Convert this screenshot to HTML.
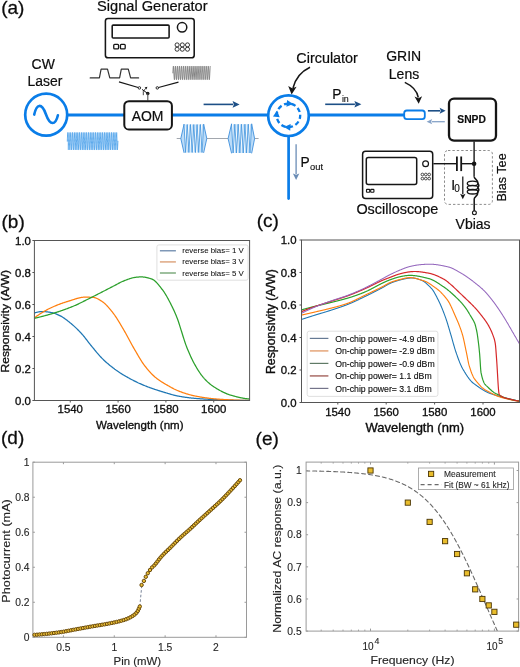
<!DOCTYPE html>
<html><head><meta charset="utf-8"><title>Figure</title>
<style>html,body{margin:0;padding:0;background:#fff;overflow:hidden;} svg{display:block;}</style>
</head><body>
<svg width="520" height="667" viewBox="0 0 520 667" font-family='"Liberation Sans", Arial, Helvetica, sans-serif'>
<rect width="520" height="667" fill="#fff"/>
<text x="1.2" y="13.8" font-size="19" fill="#0d0d0d" stroke="#0d0d0d" stroke-width="0.27">(a)</text>
<text x="97" y="10.7" font-size="14" textLength="110.6" lengthAdjust="spacingAndGlyphs" fill="#0d0d0d" stroke="#0d0d0d" stroke-width="0.2">Signal Generator</text>
<rect x="105.4" y="18.4" width="88.8" height="39.4" rx="2.6" fill="#fff" stroke="#161616" stroke-width="1.55"/>
<rect x="112.2" y="25.1" width="56.9" height="12.9" rx="1" fill="none" stroke="#161616" stroke-width="1.55"/>
<circle cx="182.1" cy="27.3" r="4.7" fill="none" stroke="#161616" stroke-width="1.5"/>
<rect x="113.75" y="44.45" width="4.8" height="4.5" rx="0.9" fill="none" stroke="#161616" stroke-width="1.3"/>
<rect x="120.45" y="44.45" width="4.75" height="4.5" rx="0.9" fill="none" stroke="#161616" stroke-width="1.3"/>
<circle cx="177.1" cy="44.9" r="2.05" fill="none" stroke="#161616" stroke-width="0.85"/>
<circle cx="177.1" cy="49.2" r="2.05" fill="none" stroke="#161616" stroke-width="0.85"/>
<circle cx="182.3" cy="44.9" r="2.05" fill="none" stroke="#161616" stroke-width="0.85"/>
<circle cx="182.3" cy="49.2" r="2.05" fill="none" stroke="#161616" stroke-width="0.85"/>
<circle cx="187.5" cy="44.9" r="2.05" fill="none" stroke="#161616" stroke-width="0.85"/>
<circle cx="187.5" cy="49.2" r="2.05" fill="none" stroke="#161616" stroke-width="0.85"/>
<polyline points="90.2,77.9 99.4,77.9 101.1,69.2 107.5,69.2 109.8,77.9 119.6,77.9 121.3,69.2 128.3,69.2 130.6,77.9 138.6,77.9" fill="none" stroke="#333" stroke-width="1.2" stroke-linejoin="round" stroke-linecap="round"/>
<polyline points="172.9,72.9 172.95,71.83 173,70.79 173.05,69.81 173.11,68.89 173.16,68.08 173.21,67.39 173.26,66.83 173.31,66.43 173.36,66.18 173.41,66.1 173.47,66.19 173.52,66.44 173.57,66.86 173.62,67.42 173.67,68.12 173.72,68.94 173.77,69.85 173.82,70.84 173.88,71.89 173.93,72.95 173.98,74.02 174.03,75.06 174.08,76.04 174.13,76.95 174.18,77.76 174.24,78.44 174.29,78.99 174.34,79.39 174.39,79.63 174.44,79.7 174.49,79.6 174.54,79.34 174.6,78.92 174.65,78.35 174.7,77.64 174.75,76.82 174.8,75.9 174.85,74.91 174.9,73.86 174.96,72.79 175.01,71.73 175.06,70.69 175.11,69.71 175.16,68.81 175.21,68.01 175.26,67.33 175.31,66.79 175.37,66.39 175.42,66.16 175.47,66.1 175.52,66.21 175.57,66.48 175.62,66.91 175.67,67.48 175.73,68.2 175.78,69.02 175.83,69.95 175.88,70.95 175.93,71.99 175.98,73.06 176.03,74.12 176.09,75.16 176.14,76.14 176.19,77.03 176.24,77.83 176.29,78.5 176.34,79.04 176.39,79.42 176.45,79.64 176.5,79.7 176.55,79.58 176.6,79.31 176.65,78.87 176.7,78.28 176.75,77.57 176.8,76.73 176.86,75.8 176.91,74.8 176.96,73.76 177.01,72.69 177.06,71.62 177.11,70.59 177.16,69.62 177.22,68.72 177.27,67.93 177.32,67.27 177.37,66.74 177.42,66.36 177.47,66.15 177.52,66.1 177.58,66.23 177.63,66.51 177.68,66.96 177.73,67.55 177.78,68.27 177.83,69.11 177.88,70.04 177.93,71.05 177.99,72.1 178.04,73.17 178.09,74.23 178.14,75.26 178.19,76.23 178.24,77.12 178.29,77.9 178.35,78.56 178.4,79.08 178.45,79.45 178.5,79.66 178.55,79.69 178.6,79.56 178.65,79.27 178.71,78.82 178.76,78.22 178.81,77.49 178.86,76.64 178.91,75.71 178.96,74.7 179.01,73.65 179.07,72.58 179.12,71.52 179.17,70.49 179.22,69.53 179.27,68.64 179.32,67.86 179.37,67.21 179.42,66.7 179.48,66.34 179.53,66.14 179.58,66.11 179.63,66.25 179.68,66.55 179.73,67.01 179.78,67.62 179.84,68.35 179.89,69.2 179.94,70.14 179.99,71.15 180.04,72.2 180.09,73.27 180.14,74.33 180.2,75.36 180.25,76.32 180.3,77.2 180.35,77.97 180.4,78.62 180.45,79.13 180.5,79.48 180.56,79.67 180.61,79.69 180.66,79.54 180.71,79.23 180.76,78.76 180.81,78.15 180.86,77.41 180.91,76.55 180.97,75.61 181.02,74.6 181.07,73.54 181.12,72.48 181.17,71.42 181.22,70.39 181.27,69.43 181.33,68.56 181.38,67.79 181.43,67.15 181.48,66.65 181.53,66.31 181.58,66.13 181.63,66.11 181.69,66.27 181.74,66.59 181.79,67.06 181.84,67.68 181.89,68.43 181.94,69.29 181.99,70.24 182.05,71.25 182.1,72.31 182.15,73.38 182.2,74.44 182.25,75.46 182.3,76.41 182.35,77.28 182.4,78.04 182.46,78.68 182.51,79.17 182.56,79.5 182.61,79.68 182.66,79.68 182.71,79.52 182.76,79.19 182.82,78.71 182.87,78.08 182.92,77.33 182.97,76.46 183.02,75.51 183.07,74.5 183.12,73.44 183.18,72.37 183.23,71.31 183.28,70.3 183.33,69.34 183.38,68.48 183.43,67.72 183.48,67.1 183.54,66.61 183.59,66.28 183.64,66.12 183.69,66.12 183.74,66.29 183.79,66.63 183.84,67.12 183.89,67.75 183.95,68.51 184,69.38 184.05,70.34 184.1,71.36 184.15,72.41 184.2,73.48 184.25,74.54 184.31,75.55 184.36,76.5 184.41,77.36 184.46,78.11 184.51,78.73 184.56,79.21 184.61,79.53 184.67,79.68 184.72,79.67 184.77,79.49 184.82,79.15 184.87,78.65 184.92,78.01 184.97,77.25 185.03,76.37 185.08,75.41 185.13,74.39 185.18,73.33 185.23,72.26 185.28,71.21 185.33,70.2 185.38,69.25 185.44,68.4 185.49,67.65 185.54,67.04 185.59,66.57 185.64,66.26 185.69,66.11 185.74,66.13 185.8,66.32 185.85,66.67 185.9,67.18 185.95,67.82 186,68.59 186.05,69.47 186.1,70.44 186.16,71.46 186.21,72.52 186.26,73.59 186.31,74.64 186.36,75.65 186.41,76.59 186.46,77.44 186.52,78.18 186.57,78.79 186.62,79.25 186.67,79.55 186.72,79.69 186.77,79.66 186.82,79.47 186.87,79.11 186.93,78.6 186.98,77.94 187.03,77.17 187.08,76.28 187.13,75.31 187.18,74.29 187.23,73.23 187.29,72.16 187.34,71.11 187.39,70.1 187.44,69.16 187.49,68.32 187.54,67.59 187.59,66.99 187.65,66.53 187.7,66.24 187.75,66.11 187.8,66.14 187.85,66.35 187.9,66.71 187.95,67.23 188,67.89 188.06,68.68 188.11,69.56 188.16,70.53 188.21,71.56 188.26,72.63 188.31,73.69 188.36,74.74 188.42,75.75 188.47,76.68 188.52,77.52 188.57,78.25 188.62,78.84 188.67,79.28 188.72,79.57 188.78,79.7 188.83,79.65 188.88,79.44 188.93,79.06 188.98,78.54 189.03,77.87 189.08,77.08 189.14,76.19 189.19,75.22 189.24,74.18 189.29,73.12 189.34,72.05 189.39,71 189.44,70 189.49,69.08 189.55,68.24 189.6,67.52 189.65,66.94 189.7,66.5 189.75,66.22 189.8,66.1 189.85,66.16 189.91,66.38 189.96,66.76 190.01,67.29 190.06,67.97 190.11,68.76 190.16,69.66 190.21,70.63 190.27,71.67 190.32,72.73 190.37,73.8 190.42,74.85 190.47,75.84 190.52,76.77 190.57,77.6 190.63,78.31 190.68,78.89 190.73,79.32 190.78,79.59 190.83,79.7 190.88,79.64 190.93,79.41 190.98,79.02 191.04,78.48 191.09,77.8 191.14,77 191.19,76.1 191.24,75.12 191.29,74.08 191.34,73.01 191.4,71.95 191.45,70.9 191.5,69.91 191.55,68.99 191.6,68.16 191.65,67.46 191.7,66.89 191.76,66.46 191.81,66.2 191.86,66.1 191.91,66.17 191.96,66.41 192.01,66.81 192.06,67.35 192.12,68.04 192.17,68.84 192.22,69.75 192.27,70.74 192.32,71.77 192.37,72.84 192.42,73.91 192.47,74.95 192.53,75.94 192.58,76.86 192.63,77.67 192.68,78.37 192.73,78.94 192.78,79.35 192.83,79.61 192.89,79.7 192.94,79.62 192.99,79.38 193.04,78.97 193.09,78.42 193.14,77.72 193.19,76.91 193.25,76 193.3,75.01 193.35,73.97 193.4,72.91 193.45,71.84 193.5,70.8 193.55,69.81 193.61,68.9 193.66,68.09 193.71,67.39 193.76,66.84 193.81,66.43 193.86,66.18 193.91,66.1 193.96,66.19 194.02,66.44 194.07,66.85 194.12,67.42 194.17,68.11 194.22,68.93 194.27,69.85 194.32,70.84 194.38,71.88 194.43,72.94 194.48,74.01 194.53,75.05 194.58,76.03 194.63,76.94 194.68,77.75 194.74,78.44 194.79,78.99 194.84,79.39 194.89,79.63 194.94,79.7 194.99,79.6 195.04,79.34 195.1,78.92 195.15,78.35 195.2,77.65 195.25,76.83 195.3,75.91 195.35,74.91 195.4,73.87 195.45,72.8 195.51,71.74 195.56,70.7 195.61,69.72 195.66,68.82 195.71,68.01 195.76,67.33 195.81,66.79 195.87,66.4 195.92,66.17 195.97,66.1 196.02,66.2 196.07,66.47 196.12,66.9 196.17,67.48 196.23,68.19 196.28,69.02 196.33,69.94 196.38,70.94 196.43,71.98 196.48,73.05 196.53,74.11 196.58,75.15 196.64,76.13 196.69,77.03 196.74,77.82 196.79,78.5 196.84,79.03 196.89,79.42 196.94,79.64 197,79.7 197.05,79.59 197.1,79.31 197.15,78.87 197.2,78.29 197.25,77.57 197.3,76.74 197.36,75.81 197.41,74.81 197.46,73.76 197.51,72.7 197.56,71.63 197.61,70.6 197.66,69.63 197.72,68.73 197.77,67.94 197.82,67.27 197.87,66.74 197.92,66.37 197.97,66.15 198.02,66.1 198.07,66.22 198.13,66.51 198.18,66.95 198.23,67.54 198.28,68.27 198.33,69.1 198.38,70.04 198.43,71.04 198.49,72.09 198.54,73.16 198.59,74.22 198.64,75.25 198.69,76.22 198.74,77.11 198.79,77.9 198.85,78.56 198.9,79.08 198.95,79.45 199,79.65 199.05,79.69 199.1,79.57 199.15,79.27 199.21,78.82 199.26,78.22 199.31,77.49 199.36,76.65 199.41,75.72 199.46,74.71 199.51,73.66 199.56,72.59 199.62,71.53 199.67,70.5 199.72,69.53 199.77,68.65 199.82,67.87 199.87,67.21 199.92,66.7 199.98,66.34 200.03,66.14 200.08,66.11 200.13,66.25 200.18,66.55 200.23,67.01 200.28,67.61 200.34,68.35 200.39,69.19 200.44,70.13 200.49,71.14 200.54,72.19 200.59,73.26 200.64,74.32 200.7,75.35 200.75,76.31 200.8,77.19 200.85,77.97 200.9,78.62 200.95,79.12 201,79.48 201.05,79.67 201.11,79.69 201.16,79.54 201.21,79.23 201.26,78.77 201.31,78.16 201.36,77.42 201.41,76.56 201.47,75.62 201.52,74.61 201.57,73.55 201.62,72.48 201.67,71.42 201.72,70.4 201.77,69.44 201.83,68.57 201.88,67.8 201.93,67.16 201.98,66.66 202.03,66.31 202.08,66.13 202.13,66.11 202.19,66.27 202.24,66.59 202.29,67.06 202.34,67.68 202.39,68.42 202.44,69.28 202.49,70.23 202.54,71.24 202.6,72.3 202.65,73.37 202.7,74.43 202.75,75.45 202.8,76.4 202.85,77.27 202.9,78.04 202.96,78.67 203.01,79.16 203.06,79.5 203.11,79.68 203.16,79.68 203.21,79.52 203.26,79.19 203.32,78.71 203.37,78.09 203.42,77.34 203.47,76.47 203.52,75.52 203.57,74.5 203.62,73.45 203.68,72.38 203.73,71.32 203.78,70.3 203.83,69.35 203.88,68.48 203.93,67.73 203.98,67.1 204.03,66.61 204.09,66.29 204.14,66.12 204.19,66.12 204.24,66.29 204.29,66.63 204.34,67.11 204.39,67.75 204.45,68.51 204.5,69.37 204.55,70.33 204.6,71.35 204.65,72.41 204.7,73.47 204.75,74.53 204.81,75.55 204.86,76.5 204.91,77.36 204.96,78.11 205.01,78.73 205.06,79.21 205.11,79.53 205.17,79.68 205.22,79.67 205.27,79.5 205.32,79.15 205.37,78.66 205.42,78.02 205.47,77.25 205.52,76.38 205.58,75.42 205.63,74.4 205.68,73.34 205.73,72.27 205.78,71.22 205.83,70.21 205.88,69.26 205.94,68.4 205.99,67.66 206.04,67.05 206.09,66.58 206.14,66.26 206.19,66.11 206.24,66.13 206.3,66.32 206.35,66.67 206.4,67.17 206.45,67.82 206.5,68.59 206.55,69.46 206.6,70.43 206.65,71.45 206.71,72.51 206.76,73.58 206.81,74.63 206.86,75.64 206.91,76.58 206.96,77.44 207.01,78.17 207.07,78.78 207.12,79.24 207.17,79.55 207.22,79.69 207.27,79.66 207.32,79.47 207.37,79.11 207.43,78.6 207.48,77.95 207.53,77.17 207.58,76.29 207.63,75.32 207.68,74.3 207.73,73.24 207.79,72.17 207.84,71.12 207.89,70.11 207.94,69.17 207.99,68.33 208.04,67.59 208.09,66.99 208.14,66.54 208.2,66.24 208.25,66.11 208.3,66.14 208.35,66.35 208.4,66.71 208.45,67.23 208.5,67.89 208.56,68.67 208.61,69.56 208.66,70.53 208.71,71.56 208.76,72.62 208.81,73.69 208.86,74.74 208.92,75.74 208.97,76.67 209.02,77.51 209.07,78.24 209.12,78.83 209.17,79.28 209.22,79.57 209.28,79.7 209.33,79.65 209.38,79.44 209.43,79.07 209.48,78.54 209.53,77.88 209.58,77.09 209.63,76.2 209.69,75.22 209.74,74.19 209.79,73.13 209.84,72.06 209.89,71.01 209.94,70.01 209.99,69.08 210.05,68.25 210.1,67.53 210.15,66.94 210.2,66.5" fill="none" stroke="#6e6e6e" stroke-width="0.85" stroke-linejoin="round" stroke-linecap="round"/>
<line x1="119" y1="81.9" x2="138.2" y2="87.5" stroke="#161616" stroke-width="1.1"/>
<circle cx="139.4" cy="87.9" r="1.25" fill="#fff" stroke="#161616" stroke-width="0.9"/>
<circle cx="157.3" cy="87.9" r="1.25" fill="#fff" stroke="#161616" stroke-width="0.9"/>
<line x1="158.5" y1="87.5" x2="178.5" y2="82.1" stroke="#161616" stroke-width="1.1"/>
<line x1="147.8" y1="93.5" x2="142" y2="89.4" stroke="#161616" stroke-width="1"/>
<path d="M143.3,95.2 Q142.2,91.2 145.6,88.4" fill="none" stroke="#161616" stroke-width="0.8"/>
<polygon points="147.4,86.7 144.6,87.6 146.4,89.5" fill="#161616"/>
<circle cx="147.8" cy="93.5" r="1.7" fill="#161616"/>
<line x1="147.8" y1="93.5" x2="147.8" y2="100.5" stroke="#555" stroke-width="1.1"/>
<text x="43.2" y="68.5" font-size="14" text-anchor="middle" textLength="23.2" lengthAdjust="spacingAndGlyphs" fill="#0d0d0d" stroke="#0d0d0d" stroke-width="0.2">CW</text>
<text x="45" y="86.3" font-size="14" text-anchor="middle" textLength="34.8" lengthAdjust="spacingAndGlyphs" fill="#0d0d0d" stroke="#0d0d0d" stroke-width="0.2">Laser</text>
<line x1="67" y1="115" x2="125" y2="115" stroke="#0a7de8" stroke-width="2.8"/>
<line x1="171" y1="115" x2="268" y2="115" stroke="#0a7de8" stroke-width="2.8"/>
<line x1="309" y1="115" x2="404" y2="115" stroke="#0a7de8" stroke-width="2.8"/>
<line x1="288.6" y1="136" x2="288.6" y2="198.6" stroke="#0a7de8" stroke-width="2.7" stroke-linecap="round"/>
<circle cx="46.2" cy="114.7" r="21.0" fill="#fff" stroke="#0a7de8" stroke-width="2.7"/>
<path d="M34.2,114.6 C36.5,104 41.5,102.3 45.8,114 C50.2,126.4 55.5,125.3 57.9,115.2" fill="none" stroke="#0a7de8" stroke-width="2.6" stroke-linecap="round"/>
<rect x="67.3" y="132.5" width="50.6" height="17.4" fill="#cfe6fb"/>
<polyline points="67.3,141.2 67.36,139.84 67.42,138.51 67.47,137.25 67.53,136.08 67.59,135.04 67.65,134.16 67.7,133.44 67.76,132.92 67.82,132.6 67.88,132.5 67.93,132.61 67.99,132.93 68.05,133.46 68.11,134.17 68.16,135.06 68.22,136.11 68.28,137.27 68.34,138.54 68.39,139.87 68.45,141.23 68.51,142.59 68.57,143.92 68.62,145.18 68.68,146.34 68.74,147.38 68.8,148.26 68.85,148.97 68.91,149.49 68.97,149.8 69.03,149.9 69.08,149.79 69.14,149.46 69.2,148.93 69.26,148.21 69.31,147.31 69.37,146.27 69.43,145.1 69.49,143.83 69.55,142.5 69.6,141.14 69.66,139.78 69.72,138.45 69.78,137.19 69.83,136.03 69.89,135 69.95,134.12 70.01,133.42 70.06,132.9 70.12,132.6 70.18,132.5 70.24,132.62 70.29,132.95 70.35,133.49 70.41,134.21 70.47,135.11 70.52,136.16 70.58,137.33 70.64,138.6 70.7,139.93 70.75,141.29 70.81,142.65 70.87,143.98 70.93,145.24 70.98,146.39 71.04,147.42 71.1,148.3 71.16,149 71.21,149.51 71.27,149.81 71.33,149.9 71.39,149.77 71.44,149.44 71.5,148.9 71.56,148.17 71.62,147.27 71.67,146.22 71.73,145.04 71.79,143.77 71.85,142.44 71.91,141.08 71.96,139.71 72.02,138.39 72.08,137.14 72.14,135.98 72.19,134.96 72.25,134.08 72.31,133.39 72.37,132.88 72.42,132.59 72.48,132.5 72.54,132.63 72.6,132.97 72.65,133.51 72.71,134.25 72.77,135.15 72.83,136.21 72.88,137.39 72.94,138.66 73,139.99 73.06,141.36 73.11,142.72 73.17,144.04 73.23,145.29 73.29,146.44 73.34,147.47 73.4,148.33 73.46,149.03 73.52,149.52 73.57,149.82 73.63,149.9 73.69,149.76 73.75,149.42 73.8,148.87 73.86,148.13 73.92,147.22 73.98,146.17 74.04,144.99 74.09,143.71 74.15,142.38 74.21,141.01 74.27,139.65 74.32,138.33 74.38,137.08 74.44,135.93 74.5,134.91 74.55,134.05 74.61,133.36 74.67,132.87 74.73,132.58 74.78,132.5 74.84,132.64 74.9,132.99 74.96,133.54 75.01,134.29 75.07,135.2 75.13,136.26 75.19,137.44 75.24,138.72 75.3,140.05 75.36,141.42 75.42,142.78 75.47,144.1 75.53,145.35 75.59,146.49 75.65,147.51 75.7,148.37 75.76,149.05 75.82,149.54 75.88,149.83 75.93,149.9 75.99,149.75 76.05,149.4 76.11,148.84 76.17,148.1 76.22,147.18 76.28,146.12 76.34,144.93 76.4,143.65 76.45,142.32 76.51,140.95 76.57,139.59 76.63,138.27 76.68,137.03 76.74,135.88 76.8,134.87 76.86,134.01 76.91,133.33 76.97,132.85 77.03,132.57 77.09,132.5 77.14,132.65 77.2,133.01 77.26,133.57 77.32,134.32 77.37,135.24 77.43,136.31 77.49,137.5 77.55,138.78 77.6,140.11 77.66,141.48 77.72,142.84 77.78,144.16 77.83,145.4 77.89,146.54 77.95,147.55 78.01,148.4 78.06,149.08 78.12,149.56 78.18,149.83 78.24,149.89 78.29,149.74 78.35,149.38 78.41,148.81 78.47,148.06 78.53,147.13 78.58,146.06 78.64,144.87 78.7,143.59 78.76,142.25 78.81,140.89 78.87,139.53 78.93,138.21 78.99,136.97 79.04,135.83 79.1,134.83 79.16,133.98 79.22,133.31 79.27,132.83 79.33,132.56 79.39,132.51 79.45,132.66 79.5,133.03 79.56,133.6 79.62,134.36 79.68,135.29 79.73,136.36 79.79,137.55 79.85,138.84 79.91,140.18 79.96,141.54 80.02,142.9 80.08,144.21 80.14,145.46 80.19,146.59 80.25,147.59 80.31,148.44 80.37,149.11 80.42,149.58 80.48,149.84 80.54,149.89 80.6,149.73 80.66,149.36 80.71,148.78 80.77,148.02 80.83,147.09 80.89,146.01 80.94,144.82 81,143.53 81.06,142.19 81.12,140.83 81.17,139.47 81.23,138.16 81.29,136.92 81.35,135.78 81.4,134.78 81.46,133.94 81.52,133.28 81.58,132.81 81.63,132.56 81.69,132.51 81.75,132.68 81.81,133.06 81.86,133.63 81.92,134.4 81.98,135.33 82.04,136.41 82.09,137.61 82.15,138.9 82.21,140.24 82.27,141.6 82.32,142.96 82.38,144.27 82.44,145.51 82.5,146.64 82.55,147.64 82.61,148.47 82.67,149.13 82.73,149.59 82.79,149.85 82.84,149.89 82.9,149.72 82.96,149.33 83.02,148.75 83.07,147.98 83.13,147.04 83.19,145.96 83.25,144.76 83.3,143.47 83.36,142.13 83.42,140.76 83.48,139.41 83.53,138.1 83.59,136.86 83.65,135.74 83.71,134.74 83.76,133.91 83.82,133.26 83.88,132.8 83.94,132.55 83.99,132.51 84.05,132.69 84.11,133.08 84.17,133.67 84.22,134.44 84.28,135.38 84.34,136.47 84.4,137.67 84.45,138.96 84.51,140.3 84.57,141.67 84.63,143.02 84.68,144.33 84.74,145.56 84.8,146.69 84.86,147.68 84.92,148.51 84.97,149.16 85.03,149.61 85.09,149.85 85.15,149.89 85.2,149.7 85.26,149.31 85.32,148.72 85.38,147.94 85.43,147 85.49,145.91 85.55,144.7 85.61,143.41 85.66,142.07 85.72,140.7 85.78,139.35 85.84,138.04 85.89,136.81 85.95,135.69 86.01,134.7 86.07,133.88 86.12,133.23 86.18,132.78 86.24,132.54 86.3,132.52 86.35,132.7 86.41,133.1 86.47,133.7 86.53,134.48 86.58,135.43 86.64,136.52 86.7,137.72 86.76,139.02 86.81,140.36 86.87,141.73 86.93,143.08 86.99,144.39 87.04,145.62 87.1,146.74 87.16,147.72 87.22,148.54 87.28,149.18 87.33,149.63 87.39,149.86 87.45,149.88 87.51,149.69 87.56,149.29 87.62,148.69 87.68,147.9 87.74,146.95 87.79,145.86 87.85,144.65 87.91,143.35 87.97,142.01 88.02,140.64 88.08,139.29 88.14,137.98 88.2,136.76 88.25,135.64 88.31,134.66 88.37,133.84 88.43,133.21 88.48,132.77 88.54,132.54 88.6,132.52 88.66,132.72 88.71,133.12 88.77,133.73 88.83,134.52 88.89,135.47 88.94,136.57 89,137.78 89.06,139.08 89.12,140.42 89.17,141.79 89.23,143.14 89.29,144.45 89.35,145.67 89.41,146.78 89.46,147.76 89.52,148.57 89.58,149.21 89.64,149.64 89.69,149.87 89.75,149.88 89.81,149.68 89.87,149.27 89.92,148.66 89.98,147.86 90.04,146.9 90.1,145.8 90.15,144.59 90.21,143.29 90.27,141.95 90.33,140.58 90.38,139.23 90.44,137.92 90.5,136.7 90.56,135.59 90.61,134.62 90.67,133.81 90.73,133.18 90.79,132.75 90.84,132.53 90.9,132.52 90.96,132.73 91.02,133.15 91.07,133.76 91.13,134.56 91.19,135.52 91.25,136.62 91.3,137.84 91.36,139.14 91.42,140.49 91.48,141.85 91.54,143.2 91.59,144.5 91.65,145.72 91.71,146.83 91.77,147.8 91.82,148.61 91.88,149.23 91.94,149.66 92,149.87 92.05,149.87 92.11,149.66 92.17,149.24 92.23,148.62 92.28,147.82 92.34,146.86 92.4,145.75 92.46,144.53 92.51,143.23 92.57,141.88 92.63,140.52 92.69,139.17 92.74,137.87 92.8,136.65 92.86,135.54 92.92,134.58 92.97,133.78 93.03,133.16 93.09,132.74 93.15,132.53 93.2,132.53 93.26,132.74 93.32,133.17 93.38,133.79 93.43,134.6 93.49,135.57 93.55,136.68 93.61,137.9 93.66,139.2 93.72,140.55 93.78,141.91 93.84,143.26 93.9,144.56 93.95,145.78 94.01,146.88 94.07,147.84 94.13,148.64 94.18,149.25 94.24,149.67 94.3,149.88 94.36,149.87 94.41,149.65 94.47,149.22 94.53,148.59 94.59,147.78 94.64,146.81 94.7,145.7 94.76,144.48 94.82,143.17 94.87,141.82 94.93,140.45 94.99,139.11 95.05,137.81 95.1,136.6 95.16,135.5 95.22,134.54 95.28,133.74 95.33,133.13 95.39,132.72 95.45,132.52 95.51,132.53 95.56,132.76 95.62,133.19 95.68,133.83 95.74,134.64 95.79,135.62 95.85,136.73 95.91,137.95 95.97,139.26 96.03,140.61 96.08,141.98 96.14,143.32 96.2,144.62 96.26,145.83 96.31,146.93 96.37,147.88 96.43,148.67 96.49,149.28 96.54,149.68 96.6,149.88 96.66,149.86 96.72,149.63 96.77,149.19 96.83,148.56 96.89,147.74 96.95,146.76 97,145.64 97.06,144.42 97.12,143.11 97.18,141.76 97.23,140.39 97.29,139.05 97.35,137.75 97.41,136.54 97.46,135.45 97.52,134.5 97.58,133.71 97.64,133.11 97.69,132.71 97.75,132.52 97.81,132.54 97.87,132.77 97.92,133.22 97.98,133.86 98.04,134.68 98.1,135.66 98.16,136.78 98.21,138.01 98.27,139.32 98.33,140.67 98.39,142.04 98.44,143.38 98.5,144.68 98.56,145.88 98.62,146.97 98.67,147.92 98.73,148.7 98.79,149.3 98.85,149.7 98.9,149.88 98.96,149.86 99.02,149.62 99.08,149.17 99.13,148.52 99.19,147.7 99.25,146.71 99.31,145.59 99.36,144.36 99.42,143.05 99.48,141.7 99.54,140.33 99.59,138.99 99.65,137.7 99.71,136.49 99.77,135.4 99.82,134.46 99.88,133.68 99.94,133.09 100,132.7 100.05,132.51 100.11,132.55 100.17,132.79 100.23,133.24 100.28,133.89 100.34,134.72 100.4,135.71 100.46,136.84 100.52,138.07 100.57,139.38 100.63,140.73 100.69,142.1 100.75,143.44 100.8,144.73 100.86,145.93 100.92,147.02 100.98,147.96 101.03,148.73 101.09,149.32 101.15,149.71 101.21,149.89 101.26,149.85 101.32,149.6 101.38,149.14 101.44,148.49 101.49,147.66 101.55,146.66 101.61,145.54 101.67,144.3 101.72,142.99 101.78,141.64 101.84,140.27 101.9,138.93 101.95,137.64 102.01,136.44 102.07,135.36 102.13,134.42 102.18,133.65 102.24,133.07 102.3,132.68 102.36,132.51 102.41,132.55 102.47,132.81 102.53,133.27 102.59,133.93 102.65,134.76 102.7,135.76 102.76,136.89 102.82,138.13 102.88,139.44 102.93,140.8 102.99,142.16 103.05,143.5 103.11,144.79 103.16,145.99 103.22,147.07 103.28,148 103.34,148.77 103.39,149.34 103.45,149.72 103.51,149.89 103.57,149.84 103.62,149.59 103.68,149.12 103.74,148.46 103.8,147.62 103.85,146.62 103.91,145.48 103.97,144.24 104.03,142.93 104.08,141.57 104.14,140.21 104.2,138.87 104.26,137.58 104.31,136.39 104.37,135.31 104.43,134.38 104.49,133.62 104.54,133.04 104.6,132.67 104.66,132.51 104.72,132.56 104.78,132.82 104.83,133.29 104.89,133.96 104.95,134.81 105.01,135.81 105.06,136.94 105.12,138.19 105.18,139.5 105.24,140.86 105.29,142.22 105.35,143.56 105.41,144.85 105.47,146.04 105.52,147.11 105.58,148.04 105.64,148.8 105.7,149.37 105.75,149.74 105.81,149.89 105.87,149.84 105.93,149.57 105.98,149.09 106.04,148.42 106.1,147.57 106.16,146.57 106.21,145.43 106.27,144.19 106.33,142.87 106.39,141.51 106.44,140.15 106.5,138.81 106.56,137.53 106.62,136.34 106.67,135.27 106.73,134.34 106.79,133.59 106.85,133.02 106.91,132.66 106.96,132.51 107.02,132.57 107.08,132.84 107.14,133.32 107.19,134 107.25,134.85 107.31,135.86 107.37,137 107.42,138.24 107.48,139.56 107.54,140.92 107.6,142.29 107.65,143.62 107.71,144.9 107.77,146.09 107.83,147.16 107.88,148.08 107.94,148.83 108,149.39 108.06,149.75 108.11,149.9 108.17,149.83 108.23,149.55 108.29,149.07 108.34,148.39 108.4,147.53 108.46,146.52 108.52,145.37 108.57,144.13 108.63,142.81 108.69,141.45 108.75,140.08 108.8,138.75 108.86,137.47 108.92,136.28 108.98,135.22 109.03,134.3 109.09,133.56 109.15,133 109.21,132.65 109.27,132.5 109.32,132.57 109.38,132.86 109.44,133.35 109.5,134.03 109.55,134.89 109.61,135.91 109.67,137.05 109.73,138.3 109.78,139.62 109.84,140.98 109.9,142.35 109.96,143.68 110.01,144.96 110.07,146.14 110.13,147.2 110.19,148.11 110.24,148.86 110.3,149.41 110.36,149.76 110.42,149.9 110.47,149.82 110.53,149.53 110.59,149.04 110.65,148.35 110.7,147.49 110.76,146.47 110.82,145.32 110.88,144.07 110.93,142.75 110.99,141.39 111.05,140.02 111.11,138.69 111.16,137.41 111.22,136.23 111.28,135.18 111.34,134.27 111.4,133.53 111.45,132.98 111.51,132.64 111.57,132.5 111.63,132.58 111.68,132.88 111.74,133.37 111.8,134.07 111.86,134.93 111.91,135.96 111.97,137.11 112.03,138.36 112.09,139.68 112.14,141.04 112.2,142.41 112.26,143.74 112.32,145.01 112.37,146.19 112.43,147.25 112.49,148.15 112.55,148.89 112.6,149.43 112.66,149.77 112.72,149.9 112.78,149.81 112.83,149.52 112.89,149.01 112.95,148.32 113.01,147.44 113.06,146.42 113.12,145.26 113.18,144.01 113.24,142.69 113.29,141.32 113.35,139.96 113.41,138.63 113.47,137.36 113.53,136.18 113.58,135.13 113.64,134.23 113.7,133.5 113.76,132.96 113.81,132.63 113.87,132.5 113.93,132.59 113.99,132.89 114.04,133.4 114.1,134.1 114.16,134.98 114.22,136.01 114.27,137.16 114.33,138.42 114.39,139.75 114.45,141.11 114.5,142.47 114.56,143.8 114.62,145.07 114.68,146.24 114.73,147.29 114.79,148.19 114.85,148.91 114.91,149.45 114.96,149.78 115.02,149.9 115.08,149.8 115.14,149.5 115.19,148.98 115.25,148.28 115.31,147.4 115.37,146.37 115.42,145.21 115.48,143.95 115.54,142.62 115.6,141.26 115.65,139.9 115.71,138.57 115.77,137.3 115.83,136.13 115.89,135.09 115.94,134.19 116,133.47 116.06,132.94 116.12,132.61 116.17,132.5 116.23,132.6 116.29,132.91 116.35,133.43 116.4,134.14 116.46,135.02 116.52,136.06 116.58,137.22 116.63,138.48 116.69,139.81 116.75,141.17 116.81,142.53 116.86,143.86 116.92,145.13 116.98,146.29 117.04,147.34 117.09,148.23 117.15,148.94 117.21,149.47 117.27,149.79 117.32,149.9 117.38,149.8 117.44,149.48 117.5,148.96 117.55,148.24 117.61,147.36 117.67,146.32 117.73,145.15 117.78,143.89 117.84,142.56 117.9,141.2" fill="none" stroke="#4fa3ea" stroke-width="0.9" stroke-linejoin="round" stroke-linecap="round"/>
<rect x="124.3" y="101.2" width="47.6" height="28.3" rx="4.6" fill="#fff" stroke="#161616" stroke-width="2"/>
<text x="147.6" y="120.6" font-size="14" text-anchor="middle" textLength="31.8" lengthAdjust="spacingAndGlyphs" fill="#0d0d0d" stroke="#0d0d0d" stroke-width="0.2">AOM</text>
<line x1="203.6" y1="104.4" x2="233.1" y2="104.4" stroke="#1d4f86" stroke-width="1.6"/>
<polygon points="239.6,104.4 232.6,101.1 233.8,104.4 232.6,107.7" fill="#1d4f86"/>
<line x1="176.7" y1="138.5" x2="258.6" y2="138.5" stroke="#8a9099" stroke-width="0.8"/>
<polygon points="180.8,138.5 184.0,124.5 203.7,124.5 206.8,138.5 203.7,152.5 184.0,152.5" fill="#bcdcf8"/>
<polyline points="184.82,124.5 186.46,152.5 188.1,124.5 189.75,152.5 191.39,124.5 193.03,152.5 194.67,124.5 196.31,152.5 197.95,124.5 199.6,152.5 201.24,124.5 202.88,152.5" fill="none" stroke="#ffffff" stroke-width="1" stroke-linejoin="round" stroke-linecap="round" stroke-linecap="butt"/>
<polyline points="184,124.5 185.64,152.5 187.28,124.5 188.93,152.5 190.57,124.5 192.21,152.5 193.85,124.5 195.49,152.5 197.13,124.5 198.77,152.5 200.42,124.5 202.06,152.5 203.7,124.5" fill="none" stroke="#4396de" stroke-width="0.8" stroke-linejoin="round" stroke-linecap="round" stroke-linecap="butt"/>
<polyline points="184,124.5 180.8,138.5 184,152.5" fill="none" stroke="#3d8fdc" stroke-width="0.9" stroke-linejoin="round" stroke-linecap="round"/>
<polyline points="203.7,124.5 206.8,138.5 203.7,152.5" fill="none" stroke="#3d8fdc" stroke-width="0.9" stroke-linejoin="round" stroke-linecap="round"/>
<polygon points="228.1,138.6 231.5,124.2 251.7,124.2 254.6,138.6 251.7,153.0 231.5,153.0" fill="#bcdcf8"/>
<polyline points="232.34,124.2 234.03,153 235.71,124.2 237.39,153 239.07,124.2 240.76,153 242.44,124.2 244.12,153 245.81,124.2 247.49,153 249.17,124.2 250.86,153" fill="none" stroke="#ffffff" stroke-width="1" stroke-linejoin="round" stroke-linecap="round" stroke-linecap="butt"/>
<polyline points="231.5,124.2 233.18,153 234.87,124.2 236.55,153 238.23,124.2 239.92,153 241.6,124.2 243.28,153 244.97,124.2 246.65,153 248.33,124.2 250.02,153 251.7,124.2" fill="none" stroke="#4396de" stroke-width="0.8" stroke-linejoin="round" stroke-linecap="round" stroke-linecap="butt"/>
<polyline points="231.5,124.2 228.1,138.6 231.5,153" fill="none" stroke="#3d8fdc" stroke-width="0.9" stroke-linejoin="round" stroke-linecap="round"/>
<polyline points="251.7,124.2 254.6,138.6 251.7,153" fill="none" stroke="#3d8fdc" stroke-width="0.9" stroke-linejoin="round" stroke-linecap="round"/>
<circle cx="288.5" cy="115.7" r="20.3" fill="#fff" stroke="#0a7de8" stroke-width="2.7"/>
<circle cx="288.4" cy="115.4" r="11.8" fill="none" stroke="#0a7de8" stroke-width="2.3" stroke-dasharray="4.6 2.8" stroke-dashoffset="1"/>
<polygon points="293.13,104.03 287.12,99.98 286.41,106.74" fill="#0a7de8"/>
<polygon points="277.12,110.47 272.96,116.41 279.71,117.23" fill="#0a7de8"/>
<polygon points="284.07,126.93 290.21,130.76 290.69,123.98" fill="#0a7de8"/>
<text x="296.3" y="63" font-size="14" textLength="61.6" lengthAdjust="spacingAndGlyphs" fill="#0d0d0d" stroke="#0d0d0d" stroke-width="0.2">Circulator</text>
<path d="M310,67.2 C302,71 295.5,78 293,88" fill="none" stroke="#161616" stroke-width="1.5"/>
<polygon points="291.6,94.4 288.2,86.0 292.2,88.2 296.6,86.8" fill="#161616"/>
<text x="332.2" y="99" font-size="14" textLength="9.2" lengthAdjust="spacingAndGlyphs" fill="#0d0d0d" stroke="#0d0d0d" stroke-width="0.2">P</text>
<text x="341.9" y="101.7" font-size="9.5" textLength="6.9" lengthAdjust="spacingAndGlyphs" fill="#0d0d0d" stroke="#0d0d0d" stroke-width="0.13">in</text>
<line x1="325.2" y1="104.3" x2="354.9" y2="104.3" stroke="#1d4f86" stroke-width="1.6"/>
<polygon points="361.4,104.3 354.4,101.1 355.6,104.3 354.4,107.5" fill="#1d4f86"/>
<text x="386.2" y="60.5" font-size="14" textLength="35" lengthAdjust="spacingAndGlyphs" fill="#0d0d0d" stroke="#0d0d0d" stroke-width="0.2">GRIN</text>
<text x="388.8" y="79.2" font-size="14" textLength="30.4" lengthAdjust="spacingAndGlyphs" fill="#0d0d0d" stroke="#0d0d0d" stroke-width="0.2">Lens</text>
<path d="M404.8,82.4 C411.5,85.5 417,90.5 418.3,97.5" fill="none" stroke="#161616" stroke-width="1.5"/>
<polygon points="418.7,103.7 414.5,96.4 418.4,98.3 422.1,96.2" fill="#161616"/>
<rect x="404.2" y="110.5" width="20.6" height="8.7" rx="2.6" fill="#fff" stroke="#0a7de8" stroke-width="1.8"/>
<line x1="427.9" y1="110.8" x2="440.1" y2="110.8" stroke="#1d4f86" stroke-width="1.6"/>
<polygon points="445.6,110.8 439.6,107.8 440.8,110.8 439.6,113.8" fill="#1d4f86"/>
<line x1="444.8" y1="121.7" x2="431.7" y2="121.7" stroke="#86a3c8" stroke-width="1.3"/>
<polygon points="426.6,121.7 432.2,119.1 431,121.7 432.2,124.3" fill="#86a3c8"/>
<rect x="449" y="98.6" width="47" height="42" rx="5" fill="#fff" stroke="#161616" stroke-width="2.3"/>
<text x="457.3" y="123.2" font-size="10.5" font-weight="bold" textLength="28.6" lengthAdjust="spacingAndGlyphs" fill="#0d0d0d" stroke="#0d0d0d" stroke-width="0.15">SNPD</text>
<line x1="296.1" y1="144.3" x2="296.1" y2="174.1" stroke="#6b8db6" stroke-width="1.3"/>
<polygon points="296.1,179.9 292.9,173.6 296.1,174.8 299.3,173.6" fill="#6b8db6"/>
<text x="300.5" y="166.7" font-size="14" textLength="9.2" lengthAdjust="spacingAndGlyphs" fill="#0d0d0d" stroke="#0d0d0d" stroke-width="0.2">P</text>
<text x="310" y="169.6" font-size="9.5" textLength="13" lengthAdjust="spacingAndGlyphs" fill="#0d0d0d" stroke="#0d0d0d" stroke-width="0.13">out</text>
<rect x="362.6" y="151.3" width="70.1" height="47.2" rx="3" fill="#fff" stroke="#161616" stroke-width="1.5"/>
<rect x="366.3" y="157.4" width="50.4" height="27" rx="2" fill="none" stroke="#161616" stroke-width="1.5"/>
<circle cx="425.6" cy="163.7" r="2.9" fill="none" stroke="#161616" stroke-width="1.2"/>
<circle cx="422.4" cy="174.5" r="1.35" fill="none" stroke="#161616" stroke-width="0.75"/>
<circle cx="422.4" cy="178.6" r="1.35" fill="none" stroke="#161616" stroke-width="0.75"/>
<circle cx="425.8" cy="174.5" r="1.35" fill="none" stroke="#161616" stroke-width="0.75"/>
<circle cx="425.8" cy="178.6" r="1.35" fill="none" stroke="#161616" stroke-width="0.75"/>
<circle cx="429.2" cy="174.5" r="1.35" fill="none" stroke="#161616" stroke-width="0.75"/>
<circle cx="429.2" cy="178.6" r="1.35" fill="none" stroke="#161616" stroke-width="0.75"/>
<rect x="366.5" y="189.4" width="3.2" height="2.9" rx="0.5" fill="none" stroke="#161616" stroke-width="1.15"/>
<rect x="370.7" y="189.4" width="3.2" height="2.9" rx="0.5" fill="none" stroke="#161616" stroke-width="1.15"/>
<text x="356.4" y="213.7" font-size="14" textLength="81.8" lengthAdjust="spacingAndGlyphs" fill="#0d0d0d" stroke="#0d0d0d" stroke-width="0.2">Oscilloscope</text>
<rect x="444.5" y="150.5" width="47.9" height="53.9" rx="3.5" fill="none" stroke="#808080" stroke-width="0.9" stroke-dasharray="2.4 2"/>
<line x1="433.4" y1="163.7" x2="456.9" y2="163.7" stroke="#161616" stroke-width="1.4"/>
<line x1="461.2" y1="163.7" x2="474.1" y2="163.7" stroke="#161616" stroke-width="1.4"/>
<line x1="456.9" y1="156.5" x2="456.9" y2="171.1" stroke="#161616" stroke-width="1.8"/>
<line x1="461.2" y1="156.5" x2="461.2" y2="171.1" stroke="#161616" stroke-width="1.8"/>
<line x1="474.1" y1="141.5" x2="474.1" y2="176.8" stroke="#161616" stroke-width="1.4"/>
<circle cx="474.1" cy="163.7" r="2.3" fill="#161616"/>
<path d="M474.2,176.7 C474.2,179.2 477.9,179.2 477.9,183.40" fill="none" stroke="#161616" stroke-width="1.5"/>
<ellipse cx="472.60" cy="183.40" rx="5.30" ry="2.25" fill="none" stroke="#161616" stroke-width="1.4"/>
<ellipse cx="472.60" cy="187.60" rx="5.30" ry="2.25" fill="none" stroke="#161616" stroke-width="1.4"/>
<ellipse cx="472.60" cy="191.80" rx="5.30" ry="2.25" fill="none" stroke="#161616" stroke-width="1.4"/>
<path d="M477.9,183.40 C479.0,184.60 479.0,186.40 477.9,187.60" fill="none" stroke="#161616" stroke-width="1.4"/>
<path d="M477.9,187.60 C479.0,188.80 479.0,190.60 477.9,191.80" fill="none" stroke="#161616" stroke-width="1.4"/>
<path d="M477.9,191.80 C478.2,196.6 474.2,196.3 474.2,198.9 L474.2,210.9" fill="none" stroke="#161616" stroke-width="1.5"/>
<circle cx="474.4" cy="212.8" r="1.95" fill="#fff" stroke="#161616" stroke-width="1.1"/>
<line x1="462.8" y1="176.4" x2="462.8" y2="194.2" stroke="#161616" stroke-width="1.25"/>
<polygon points="462.8,199.3 460.1,193.7 462.8,194.9 465.5,193.7" fill="#161616"/>
<text x="451.2" y="190.2" font-size="14" fill="#0d0d0d" stroke="#0d0d0d" stroke-width="0.2">I</text>
<text x="454.3" y="192.2" font-size="10" fill="#0d0d0d" stroke="#0d0d0d" stroke-width="0.14">0</text>
<text transform="translate(506,201.6) rotate(-90)" x="0" y="0" font-size="13.6" text-anchor="start" textLength="48.3" lengthAdjust="spacingAndGlyphs" fill="#0d0d0d" stroke="#0d0d0d" stroke-width="0.19">Bias Tee</text>
<text x="455.6" y="228.7" font-size="14" textLength="35" lengthAdjust="spacingAndGlyphs" fill="#0d0d0d" stroke="#0d0d0d" stroke-width="0.2">Vbias</text>
<text x="1.5" y="227.5" font-size="19" fill="#0d0d0d" stroke="#0d0d0d" stroke-width="0.27">(b)</text>
<text x="256.8" y="227" font-size="19" fill="#0d0d0d" stroke="#0d0d0d" stroke-width="0.27">(c)</text>
<text x="1" y="444" font-size="19" fill="#0d0d0d" stroke="#0d0d0d" stroke-width="0.27">(d)</text>
<text x="255.6" y="444.5" font-size="19" fill="#0d0d0d" stroke="#0d0d0d" stroke-width="0.27">(e)</text>
<clipPath id="cb"><rect x="34.4" y="238.5" width="215.2" height="162.0"/></clipPath>
<g clip-path="url(#cb)">
<polyline points="34.4,312.98 34.94,312.81 35.48,312.66 36.02,312.51 36.56,312.37 37.1,312.24 37.64,312.12 38.18,312.01 38.71,311.91 39.25,311.82 39.79,311.74 40.33,311.68 40.87,311.62 41.41,311.58 41.95,311.56 42.49,311.54 43.03,311.54 43.57,311.55 44.11,311.57 44.65,311.61 45.19,311.65 45.73,311.7 46.27,311.76 46.81,311.82 47.34,311.89 47.88,311.97 48.42,312.05 48.96,312.13 49.5,312.22 50.04,312.31 50.58,312.4 51.12,312.5 51.66,312.6 52.2,312.72 52.74,312.85 53.28,313 53.82,313.16 54.36,313.34 54.9,313.52 55.43,313.72 55.97,313.93 56.51,314.15 57.05,314.37 57.59,314.6 58.13,314.84 58.67,315.09 59.21,315.34 59.75,315.59 60.29,315.85 60.83,316.12 61.37,316.42 61.91,316.73 62.45,317.05 62.99,317.4 63.52,317.75 64.06,318.12 64.6,318.5 65.14,318.89 65.68,319.29 66.22,319.69 66.76,320.11 67.3,320.53 67.84,320.96 68.38,321.38 68.92,321.82 69.46,322.25 70,322.68 70.54,323.12 71.08,323.56 71.62,324.01 72.15,324.47 72.69,324.93 73.23,325.4 73.77,325.88 74.31,326.37 74.85,326.87 75.39,327.37 75.93,327.88 76.47,328.4 77.01,328.92 77.55,329.45 78.09,329.99 78.63,330.54 79.17,331.09 79.71,331.65 80.24,332.21 80.78,332.78 81.32,333.36 81.86,333.96 82.4,334.57 82.94,335.2 83.48,335.84 84.02,336.5 84.56,337.18 85.1,337.86 85.64,338.55 86.18,339.25 86.72,339.95 87.26,340.65 87.8,341.36 88.33,342.06 88.87,342.76 89.41,343.46 89.95,344.15 90.49,344.83 91.03,345.5 91.57,346.16 92.11,346.81 92.65,347.46 93.19,348.11 93.73,348.77 94.27,349.42 94.81,350.08 95.35,350.73 95.89,351.39 96.43,352.03 96.96,352.68 97.5,353.31 98.04,353.95 98.58,354.57 99.12,355.18 99.66,355.79 100.2,356.38 100.74,356.96 101.28,357.53 101.82,358.09 102.36,358.63 102.9,359.16 103.44,359.68 103.98,360.2 104.52,360.7 105.05,361.2 105.59,361.69 106.13,362.18 106.67,362.66 107.21,363.13 107.75,363.59 108.29,364.05 108.83,364.51 109.37,364.95 109.91,365.4 110.45,365.83 110.99,366.26 111.53,366.69 112.07,367.11 112.61,367.53 113.14,367.94 113.68,368.35 114.22,368.75 114.76,369.16 115.3,369.55 115.84,369.95 116.38,370.33 116.92,370.72 117.46,371.1 118,371.47 118.54,371.84 119.08,372.21 119.62,372.57 120.16,372.92 120.7,373.27 121.24,373.62 121.77,373.96 122.31,374.29 122.85,374.62 123.39,374.94 123.93,375.26 124.47,375.58 125.01,375.89 125.55,376.2 126.09,376.51 126.63,376.82 127.17,377.12 127.71,377.42 128.25,377.72 128.79,378.02 129.33,378.31 129.86,378.61 130.4,378.9 130.94,379.18 131.48,379.47 132.02,379.75 132.56,380.03 133.1,380.31 133.64,380.59 134.18,380.86 134.72,381.13 135.26,381.4 135.8,381.66 136.34,381.93 136.88,382.19 137.42,382.44 137.95,382.7 138.49,382.95 139.03,383.2 139.57,383.45 140.11,383.69 140.65,383.93 141.19,384.17 141.73,384.4 142.27,384.64 142.81,384.87 143.35,385.09 143.89,385.32 144.43,385.54 144.97,385.76 145.51,385.97 146.05,386.18 146.58,386.39 147.12,386.6 147.66,386.81 148.2,387.01 148.74,387.22 149.28,387.41 149.82,387.61 150.36,387.81 150.9,388 151.44,388.19 151.98,388.38 152.52,388.57 153.06,388.76 153.6,388.94 154.14,389.13 154.67,389.31 155.21,389.49 155.75,389.67 156.29,389.85 156.83,390.02 157.37,390.2 157.91,390.37 158.45,390.54 158.99,390.71 159.53,390.88 160.07,391.05 160.61,391.22 161.15,391.39 161.69,391.55 162.23,391.72 162.76,391.88 163.3,392.04 163.84,392.2 164.38,392.37 164.92,392.53 165.46,392.69 166,392.85 166.54,393.01 167.08,393.17 167.62,393.33 168.16,393.49 168.7,393.65 169.24,393.81 169.78,393.97 170.32,394.13 170.86,394.29 171.39,394.45 171.93,394.6 172.47,394.75 173.01,394.9 173.55,395.04 174.09,395.18 174.63,395.32 175.17,395.45 175.71,395.57 176.25,395.69 176.79,395.81 177.33,395.92 177.87,396.02 178.41,396.12 178.95,396.22 179.48,396.31 180.02,396.4 180.56,396.5 181.1,396.59 181.64,396.68 182.18,396.76 182.72,396.85 183.26,396.94 183.8,397.02 184.34,397.1 184.88,397.18 185.42,397.26 185.96,397.33 186.5,397.41 187.04,397.48 187.57,397.55 188.11,397.62 188.65,397.69 189.19,397.76 189.73,397.82 190.27,397.89 190.81,397.95 191.35,398.01 191.89,398.07 192.43,398.12 192.97,398.18 193.51,398.23 194.05,398.28 194.59,398.33 195.13,398.38 195.67,398.43 196.2,398.47 196.74,398.52 197.28,398.56 197.82,398.6 198.36,398.64 198.9,398.68 199.44,398.72 199.98,398.76 200.52,398.8 201.06,398.84 201.6,398.87 202.14,398.91 202.68,398.94 203.22,398.98 203.76,399.01 204.29,399.04 204.83,399.08 205.37,399.11 205.91,399.14 206.45,399.17 206.99,399.2 207.53,399.23 208.07,399.26 208.61,399.29 209.15,399.31 209.69,399.34 210.23,399.37 210.77,399.4 211.31,399.42 211.85,399.45 212.38,399.48 212.92,399.5 213.46,399.53 214,399.55 214.54,399.58 215.08,399.6 215.62,399.63 216.16,399.65 216.7,399.68 217.24,399.7 217.78,399.73 218.32,399.75 218.86,399.77 219.4,399.8 219.94,399.82 220.48,399.84 221.01,399.87 221.55,399.89 222.09,399.91 222.63,399.93 223.17,399.95 223.71,399.97 224.25,399.99 224.79,400.01 225.33,400.03 225.87,400.05 226.41,400.07 226.95,400.08 227.49,400.1 228.03,400.12 228.57,400.13 229.1,400.15 229.64,400.16 230.18,400.17 230.72,400.19 231.26,400.2 231.8,400.21 232.34,400.22 232.88,400.24 233.42,400.25 233.96,400.26 234.5,400.27 235.04,400.28 235.58,400.3 236.12,400.31 236.66,400.32 237.19,400.33 237.73,400.34 238.27,400.35 238.81,400.36 239.35,400.37 239.89,400.38 240.43,400.39 240.97,400.4 241.51,400.41 242.05,400.42 242.59,400.43 243.13,400.43 243.67,400.44 244.21,400.45 244.75,400.46 245.29,400.46 245.82,400.47 246.36,400.47 246.9,400.48 247.44,400.48 247.98,400.49 248.52,400.49 249.06,400.5 249.6,400.5" fill="none" stroke="#1f77b4" stroke-width="1.25" stroke-linejoin="round" stroke-linecap="round"/>
<polyline points="34.4,317.78 34.94,317.4 35.48,317.02 36.02,316.64 36.56,316.26 37.1,315.89 37.64,315.53 38.18,315.16 38.71,314.8 39.25,314.44 39.79,314.09 40.33,313.74 40.87,313.4 41.41,313.06 41.95,312.72 42.49,312.39 43.03,312.06 43.57,311.73 44.11,311.41 44.65,311.1 45.19,310.79 45.73,310.48 46.27,310.18 46.81,309.89 47.34,309.6 47.88,309.31 48.42,309.03 48.96,308.75 49.5,308.48 50.04,308.22 50.58,307.96 51.12,307.71 51.66,307.46 52.2,307.21 52.74,306.97 53.28,306.73 53.82,306.5 54.36,306.26 54.9,306.03 55.43,305.81 55.97,305.58 56.51,305.36 57.05,305.14 57.59,304.93 58.13,304.72 58.67,304.51 59.21,304.3 59.75,304.1 60.29,303.9 60.83,303.7 61.37,303.51 61.91,303.32 62.45,303.13 62.99,302.94 63.52,302.76 64.06,302.58 64.6,302.4 65.14,302.22 65.68,302.05 66.22,301.88 66.76,301.71 67.3,301.54 67.84,301.38 68.38,301.22 68.92,301.06 69.46,300.89 70,300.72 70.54,300.54 71.08,300.37 71.62,300.19 72.15,300.01 72.69,299.83 73.23,299.65 73.77,299.47 74.31,299.3 74.85,299.13 75.39,298.96 75.93,298.79 76.47,298.63 77.01,298.47 77.55,298.32 78.09,298.18 78.63,298.04 79.17,297.91 79.71,297.78 80.24,297.67 80.78,297.57 81.32,297.47 81.86,297.39 82.4,297.31 82.94,297.25 83.48,297.2 84.02,297.17 84.56,297.15 85.1,297.14 85.64,297.14 86.18,297.15 86.72,297.15 87.26,297.16 87.8,297.18 88.33,297.19 88.87,297.21 89.41,297.23 89.95,297.25 90.49,297.28 91.03,297.31 91.57,297.34 92.11,297.37 92.65,297.4 93.19,297.44 93.73,297.48 94.27,297.56 94.81,297.68 95.35,297.83 95.89,298.02 96.43,298.23 96.96,298.47 97.5,298.73 98.04,299.01 98.58,299.31 99.12,299.62 99.66,299.95 100.2,300.28 100.74,300.62 101.28,300.95 101.82,301.29 102.36,301.65 102.9,302.03 103.44,302.44 103.98,302.88 104.52,303.34 105.05,303.83 105.59,304.34 106.13,304.87 106.67,305.42 107.21,306 107.75,306.58 108.29,307.19 108.83,307.8 109.37,308.43 109.91,309.07 110.45,309.72 110.99,310.38 111.53,311.04 112.07,311.71 112.61,312.38 113.14,313.06 113.68,313.76 114.22,314.5 114.76,315.25 115.3,316.03 115.84,316.83 116.38,317.65 116.92,318.49 117.46,319.34 118,320.21 118.54,321.09 119.08,321.98 119.62,322.88 120.16,323.79 120.7,324.71 121.24,325.62 121.77,326.54 122.31,327.46 122.85,328.38 123.39,329.29 123.93,330.2 124.47,331.13 125.01,332.08 125.55,333.04 126.09,334.01 126.63,335 127.17,335.99 127.71,336.99 128.25,337.99 128.79,339 129.33,340 129.86,341.01 130.4,342.01 130.94,343.01 131.48,344 132.02,344.98 132.56,345.95 133.1,346.91 133.64,347.85 134.18,348.78 134.72,349.7 135.26,350.63 135.8,351.56 136.34,352.49 136.88,353.43 137.42,354.35 137.95,355.28 138.49,356.2 139.03,357.11 139.57,358.01 140.11,358.89 140.65,359.77 141.19,360.63 141.73,361.47 142.27,362.29 142.81,363.09 143.35,363.87 143.89,364.63 144.43,365.35 144.97,366.06 145.51,366.75 146.05,367.44 146.58,368.11 147.12,368.78 147.66,369.43 148.2,370.07 148.74,370.7 149.28,371.32 149.82,371.93 150.36,372.52 150.9,373.1 151.44,373.67 151.98,374.22 152.52,374.76 153.06,375.28 153.6,375.78 154.14,376.27 154.67,376.74 155.21,377.19 155.75,377.63 156.29,378.06 156.83,378.48 157.37,378.89 157.91,379.29 158.45,379.68 158.99,380.06 159.53,380.44 160.07,380.81 160.61,381.17 161.15,381.53 161.69,381.87 162.23,382.22 162.76,382.55 163.3,382.89 163.84,383.22 164.38,383.54 164.92,383.86 165.46,384.17 166,384.49 166.54,384.8 167.08,385.11 167.62,385.41 168.16,385.72 168.7,386.02 169.24,386.33 169.78,386.63 170.32,386.93 170.86,387.23 171.39,387.54 171.93,387.84 172.47,388.13 173.01,388.42 173.55,388.71 174.09,389 174.63,389.27 175.17,389.54 175.71,389.8 176.25,390.05 176.79,390.29 177.33,390.52 177.87,390.74 178.41,390.95 178.95,391.16 179.48,391.36 180.02,391.57 180.56,391.77 181.1,391.96 181.64,392.16 182.18,392.35 182.72,392.54 183.26,392.73 183.8,392.91 184.34,393.09 184.88,393.27 185.42,393.44 185.96,393.62 186.5,393.78 187.04,393.95 187.57,394.11 188.11,394.27 188.65,394.43 189.19,394.58 189.73,394.73 190.27,394.87 190.81,395.01 191.35,395.15 191.89,395.29 192.43,395.42 192.97,395.54 193.51,395.67 194.05,395.79 194.59,395.9 195.13,396.01 195.67,396.12 196.2,396.23 196.74,396.33 197.28,396.43 197.82,396.53 198.36,396.63 198.9,396.73 199.44,396.82 199.98,396.92 200.52,397.01 201.06,397.1 201.6,397.19 202.14,397.28 202.68,397.36 203.22,397.44 203.76,397.53 204.29,397.61 204.83,397.69 205.37,397.76 205.91,397.84 206.45,397.91 206.99,397.99 207.53,398.06 208.07,398.12 208.61,398.19 209.15,398.26 209.69,398.32 210.23,398.38 210.77,398.44 211.31,398.5 211.85,398.56 212.38,398.61 212.92,398.66 213.46,398.72 214,398.76 214.54,398.81 215.08,398.86 215.62,398.91 216.16,398.95 216.7,399 217.24,399.04 217.78,399.08 218.32,399.13 218.86,399.17 219.4,399.21 219.94,399.25 220.48,399.29 221.01,399.32 221.55,399.36 222.09,399.4 222.63,399.43 223.17,399.47 223.71,399.5 224.25,399.53 224.79,399.57 225.33,399.6 225.87,399.63 226.41,399.66 226.95,399.69 227.49,399.72 228.03,399.74 228.57,399.77 229.1,399.8 229.64,399.82 230.18,399.85 230.72,399.87 231.26,399.9 231.8,399.92 232.34,399.94 232.88,399.97 233.42,399.99 233.96,400.01 234.5,400.04 235.04,400.06 235.58,400.08 236.12,400.1 236.66,400.12 237.19,400.14 237.73,400.17 238.27,400.19 238.81,400.21 239.35,400.23 239.89,400.25 240.43,400.26 240.97,400.28 241.51,400.3 242.05,400.32 242.59,400.33 243.13,400.35 243.67,400.37 244.21,400.38 244.75,400.4 245.29,400.41 245.82,400.42 246.36,400.44 246.9,400.45 247.44,400.46 247.98,400.47 248.52,400.48 249.06,400.49 249.6,400.5" fill="none" stroke="#ff7f0e" stroke-width="1.25" stroke-linejoin="round" stroke-linecap="round"/>
<polyline points="34.4,318.26 34.94,318.14 35.48,318.02 36.02,317.9 36.56,317.78 37.1,317.65 37.64,317.52 38.18,317.4 38.71,317.27 39.25,317.14 39.79,317.01 40.33,316.87 40.87,316.74 41.41,316.6 41.95,316.47 42.49,316.33 43.03,316.19 43.57,316.05 44.11,315.91 44.65,315.76 45.19,315.62 45.73,315.47 46.27,315.32 46.81,315.18 47.34,315.03 47.88,314.88 48.42,314.72 48.96,314.57 49.5,314.42 50.04,314.26 50.58,314.1 51.12,313.95 51.66,313.79 52.2,313.63 52.74,313.46 53.28,313.3 53.82,313.14 54.36,312.97 54.9,312.8 55.43,312.64 55.97,312.47 56.51,312.3 57.05,312.12 57.59,311.95 58.13,311.78 58.67,311.6 59.21,311.42 59.75,311.24 60.29,311.06 60.83,310.88 61.37,310.69 61.91,310.51 62.45,310.32 62.99,310.13 63.52,309.94 64.06,309.75 64.6,309.56 65.14,309.37 65.68,309.17 66.22,308.97 66.76,308.77 67.3,308.57 67.84,308.37 68.38,308.16 68.92,307.96 69.46,307.75 70,307.54 70.54,307.33 71.08,307.12 71.62,306.9 72.15,306.69 72.69,306.47 73.23,306.25 73.77,306.02 74.31,305.79 74.85,305.55 75.39,305.32 75.93,305.07 76.47,304.83 77.01,304.58 77.55,304.33 78.09,304.08 78.63,303.82 79.17,303.56 79.71,303.3 80.24,303.04 80.78,302.77 81.32,302.51 81.86,302.24 82.4,301.97 82.94,301.7 83.48,301.43 84.02,301.15 84.56,300.88 85.1,300.6 85.64,300.33 86.18,300.05 86.72,299.78 87.26,299.5 87.8,299.23 88.33,298.96 88.87,298.68 89.41,298.41 89.95,298.14 90.49,297.87 91.03,297.6 91.57,297.33 92.11,297.06 92.65,296.79 93.19,296.52 93.73,296.25 94.27,295.98 94.81,295.71 95.35,295.44 95.89,295.16 96.43,294.89 96.96,294.61 97.5,294.34 98.04,294.06 98.58,293.79 99.12,293.51 99.66,293.24 100.2,292.96 100.74,292.68 101.28,292.4 101.82,292.13 102.36,291.85 102.9,291.57 103.44,291.29 103.98,291.01 104.52,290.74 105.05,290.46 105.59,290.18 106.13,289.9 106.67,289.62 107.21,289.34 107.75,289.06 108.29,288.78 108.83,288.5 109.37,288.23 109.91,287.95 110.45,287.67 110.99,287.39 111.53,287.11 112.07,286.83 112.61,286.56 113.14,286.28 113.68,286 114.22,285.73 114.76,285.45 115.3,285.17 115.84,284.88 116.38,284.59 116.92,284.29 117.46,284 118,283.7 118.54,283.4 119.08,283.11 119.62,282.83 120.16,282.55 120.7,282.27 121.24,282.01 121.77,281.76 122.31,281.53 122.85,281.31 123.39,281.09 123.93,280.88 124.47,280.67 125.01,280.45 125.55,280.24 126.09,280.03 126.63,279.82 127.17,279.62 127.71,279.42 128.25,279.22 128.79,279.03 129.33,278.84 129.86,278.66 130.4,278.49 130.94,278.32 131.48,278.17 132.02,278.02 132.56,277.88 133.1,277.76 133.64,277.64 134.18,277.53 134.72,277.44 135.26,277.36 135.8,277.3 136.34,277.24 136.88,277.18 137.42,277.13 137.95,277.08 138.49,277.03 139.03,276.99 139.57,276.95 140.11,276.93 140.65,276.91 141.19,276.9 141.73,276.91 142.27,276.92 142.81,276.96 143.35,277.01 143.89,277.07 144.43,277.14 144.97,277.22 145.51,277.32 146.05,277.42 146.58,277.54 147.12,277.67 147.66,277.8 148.2,277.94 148.74,278.09 149.28,278.25 149.82,278.41 150.36,278.58 150.9,278.76 151.44,278.94 151.98,279.12 152.52,279.35 153.06,279.64 153.6,279.97 154.14,280.35 154.67,280.78 155.21,281.24 155.75,281.75 156.29,282.28 156.83,282.85 157.37,283.45 157.91,284.07 158.45,284.71 158.99,285.36 159.53,286.04 160.07,286.72 160.61,287.41 161.15,288.1 161.69,288.8 162.23,289.49 162.76,290.2 163.3,290.93 163.84,291.7 164.38,292.51 164.92,293.34 165.46,294.21 166,295.1 166.54,296.02 167.08,296.96 167.62,297.93 168.16,298.91 168.7,299.92 169.24,300.95 169.78,301.99 170.32,303.05 170.86,304.12 171.39,305.2 171.93,306.3 172.47,307.4 173.01,308.51 173.55,309.64 174.09,310.8 174.63,312 175.17,313.23 175.71,314.51 176.25,315.82 176.79,317.18 177.33,318.58 177.87,320.02 178.41,321.55 178.95,323.18 179.48,324.89 180.02,326.64 180.56,328.39 181.1,330.12 181.64,331.81 182.18,333.5 182.72,335.22 183.26,336.95 183.8,338.67 184.34,340.37 184.88,342.02 185.42,343.61 185.96,345.13 186.5,346.56 187.04,347.92 187.57,349.26 188.11,350.57 188.65,351.85 189.19,353.11 189.73,354.34 190.27,355.54 190.81,356.72 191.35,357.87 191.89,358.99 192.43,360.09 192.97,361.16 193.51,362.21 194.05,363.22 194.59,364.22 195.13,365.18 195.67,366.12 196.2,367.04 196.74,367.95 197.28,368.84 197.82,369.71 198.36,370.57 198.9,371.41 199.44,372.23 199.98,373.02 200.52,373.8 201.06,374.55 201.6,375.29 202.14,375.99 202.68,376.67 203.22,377.33 203.76,377.96 204.29,378.56 204.83,379.14 205.37,379.71 205.91,380.26 206.45,380.81 206.99,381.33 207.53,381.85 208.07,382.35 208.61,382.83 209.15,383.3 209.69,383.76 210.23,384.2 210.77,384.63 211.31,385.05 211.85,385.45 212.38,385.83 212.92,386.2 213.46,386.56 214,386.91 214.54,387.25 215.08,387.6 215.62,387.94 216.16,388.27 216.7,388.6 217.24,388.93 217.78,389.25 218.32,389.57 218.86,389.88 219.4,390.18 219.94,390.49 220.48,390.78 221.01,391.07 221.55,391.36 222.09,391.64 222.63,391.91 223.17,392.18 223.71,392.44 224.25,392.69 224.79,392.94 225.33,393.18 225.87,393.41 226.41,393.63 226.95,393.85 227.49,394.06 228.03,394.27 228.57,394.46 229.1,394.65 229.64,394.82 230.18,394.99 230.72,395.15 231.26,395.31 231.8,395.46 232.34,395.61 232.88,395.76 233.42,395.91 233.96,396.06 234.5,396.21 235.04,396.35 235.58,396.49 236.12,396.63 236.66,396.77 237.19,396.9 237.73,397.04 238.27,397.17 238.81,397.29 239.35,397.42 239.89,397.54 240.43,397.65 240.97,397.77 241.51,397.87 242.05,397.98 242.59,398.08 243.13,398.17 243.67,398.27 244.21,398.35 244.75,398.43 245.29,398.51 245.82,398.58 246.36,398.64 246.9,398.7 247.44,398.75 247.98,398.8 248.52,398.84 249.06,398.87 249.6,398.9" fill="none" stroke="#2ca02c" stroke-width="1.25" stroke-linejoin="round" stroke-linecap="round"/>
</g>
<rect x="34.4" y="240.5" width="215.2" height="160" fill="none" stroke="#555" stroke-width="1"/>
<line x1="32.4" y1="400.5" x2="34.4" y2="400.5" stroke="#555" stroke-width="1"/>
<text x="30.9" y="404.6" font-size="11.4" text-anchor="end" fill="#0d0d0d" stroke="#0d0d0d" stroke-width="0.32">0.0</text>
<line x1="32.4" y1="368.5" x2="34.4" y2="368.5" stroke="#555" stroke-width="1"/>
<text x="30.9" y="372.6" font-size="11.4" text-anchor="end" fill="#0d0d0d" stroke="#0d0d0d" stroke-width="0.32">0.2</text>
<line x1="32.4" y1="336.5" x2="34.4" y2="336.5" stroke="#555" stroke-width="1"/>
<text x="30.9" y="340.6" font-size="11.4" text-anchor="end" fill="#0d0d0d" stroke="#0d0d0d" stroke-width="0.32">0.4</text>
<line x1="32.4" y1="304.5" x2="34.4" y2="304.5" stroke="#555" stroke-width="1"/>
<text x="30.9" y="308.6" font-size="11.4" text-anchor="end" fill="#0d0d0d" stroke="#0d0d0d" stroke-width="0.32">0.6</text>
<line x1="32.4" y1="272.5" x2="34.4" y2="272.5" stroke="#555" stroke-width="1"/>
<text x="30.9" y="276.6" font-size="11.4" text-anchor="end" fill="#0d0d0d" stroke="#0d0d0d" stroke-width="0.32">0.8</text>
<line x1="32.4" y1="240.5" x2="34.4" y2="240.5" stroke="#555" stroke-width="1"/>
<text x="30.9" y="244.6" font-size="11.4" text-anchor="end" fill="#0d0d0d" stroke="#0d0d0d" stroke-width="0.32">1.0</text>
<line x1="70.27" y1="400.5" x2="70.27" y2="402.5" stroke="#555" stroke-width="1"/>
<text x="70.27" y="413.2" font-size="11.4" text-anchor="middle" fill="#0d0d0d" stroke="#0d0d0d" stroke-width="0.32">1540</text>
<line x1="118.09" y1="400.5" x2="118.09" y2="402.5" stroke="#555" stroke-width="1"/>
<text x="118.09" y="413.2" font-size="11.4" text-anchor="middle" fill="#0d0d0d" stroke="#0d0d0d" stroke-width="0.32">1560</text>
<line x1="165.91" y1="400.5" x2="165.91" y2="402.5" stroke="#555" stroke-width="1"/>
<text x="165.91" y="413.2" font-size="11.4" text-anchor="middle" fill="#0d0d0d" stroke="#0d0d0d" stroke-width="0.32">1580</text>
<line x1="213.73" y1="400.5" x2="213.73" y2="402.5" stroke="#555" stroke-width="1"/>
<text x="213.73" y="413.2" font-size="11.4" text-anchor="middle" fill="#0d0d0d" stroke="#0d0d0d" stroke-width="0.32">1600</text>
<text x="139.8" y="428.5" font-size="11.8" text-anchor="middle" textLength="87.5" lengthAdjust="spacingAndGlyphs" fill="#0d0d0d" stroke="#0d0d0d" stroke-width="0.33">Wavelength (nm)</text>
<text transform="translate(8.6,321.2) rotate(-90)" x="0" y="0" font-size="11.5" text-anchor="middle" textLength="102.5" lengthAdjust="spacingAndGlyphs" fill="#0d0d0d" stroke="#0d0d0d" stroke-width="0.32">Responsivity (A/W)</text>
<rect x="156.9" y="244.9" width="91.2" height="35.3" rx="2" fill="#fff" fill-opacity="0.85" stroke="#d8d8d8" stroke-width="0.8"/>
<line x1="159.9" y1="250.8" x2="175.9" y2="250.8" stroke="#5f7fa5" stroke-width="1.2"/>
<text x="182.3" y="253.3" font-size="8" textLength="61.5" lengthAdjust="spacingAndGlyphs" fill="#0d0d0d" stroke="#0d0d0d" stroke-width="0.05">reverse bias= 1 V</text>
<line x1="159.9" y1="261.9" x2="175.9" y2="261.9" stroke="#e0ad8a" stroke-width="1.6"/>
<text x="182.3" y="264.4" font-size="8" textLength="61.5" lengthAdjust="spacingAndGlyphs" fill="#0d0d0d" stroke="#0d0d0d" stroke-width="0.05">reverse bias= 3 V</text>
<line x1="159.9" y1="273" x2="175.9" y2="273" stroke="#6a9e6a" stroke-width="1.3"/>
<text x="182.3" y="275.5" font-size="8" textLength="61.5" lengthAdjust="spacingAndGlyphs" fill="#0d0d0d" stroke="#0d0d0d" stroke-width="0.05">reverse bias= 5 V</text>
<clipPath id="cc"><rect x="301.5" y="238.0" width="218.0" height="164.5"/></clipPath>
<g clip-path="url(#cc)">
<polyline points="301.5,319.46 301.77,319.37 302.05,319.28 302.32,319.19 302.6,319.1 302.87,319.01 303.14,318.92 303.42,318.83 303.69,318.74 303.97,318.65 304.24,318.56 304.52,318.47 304.79,318.38 305.06,318.29 305.34,318.21 305.61,318.12 305.89,318.03 306.16,317.94 306.43,317.85 306.71,317.76 306.98,317.67 307.26,317.58 307.53,317.5 307.8,317.41 308.08,317.32 308.35,317.23 308.63,317.14 308.9,317.05 309.17,316.97 309.45,316.88 309.72,316.79 310,316.7 310.27,316.62 310.55,316.53 310.82,316.44 311.09,316.35 311.37,316.27 311.64,316.18 311.92,316.09 312.19,316.01 312.46,315.92 312.74,315.83 313.01,315.75 313.29,315.66 313.56,315.57 313.83,315.49 314.11,315.4 314.38,315.32 314.66,315.23 314.93,315.15 315.21,315.06 315.48,314.98 315.75,314.89 316.03,314.81 316.3,314.73 316.58,314.64 316.85,314.56 317.12,314.47 317.4,314.39 317.67,314.31 317.95,314.23 318.22,314.14 318.49,314.06 318.77,313.98 319.04,313.89 319.32,313.81 319.59,313.73 319.87,313.65 320.14,313.56 320.41,313.48 320.69,313.4 320.96,313.32 321.24,313.24 321.51,313.15 321.78,313.07 322.06,312.99 322.33,312.91 322.61,312.82 322.88,312.74 323.15,312.66 323.43,312.58 323.7,312.49 323.98,312.41 324.25,312.33 324.52,312.25 324.8,312.16 325.07,312.08 325.35,312 325.62,311.91 325.9,311.83 326.17,311.74 326.44,311.66 326.72,311.57 326.99,311.49 327.27,311.41 327.54,311.32 327.81,311.23 328.09,311.15 328.36,311.06 328.64,310.98 328.91,310.89 329.18,310.8 329.46,310.72 329.73,310.63 330.01,310.54 330.28,310.45 330.56,310.36 330.83,310.28 331.1,310.19 331.38,310.1 331.65,310.01 331.93,309.92 332.2,309.83 332.47,309.75 332.75,309.66 333.02,309.57 333.3,309.48 333.57,309.39 333.84,309.3 334.12,309.21 334.39,309.12 334.67,309.03 334.94,308.94 335.21,308.85 335.49,308.76 335.76,308.67 336.04,308.58 336.31,308.49 336.59,308.4 336.86,308.31 337.13,308.22 337.41,308.13 337.68,308.04 337.96,307.94 338.23,307.85 338.5,307.76 338.78,307.67 339.05,307.57 339.33,307.48 339.6,307.39 339.87,307.29 340.15,307.2 340.42,307.1 340.7,307.01 340.97,306.91 341.25,306.82 341.52,306.72 341.79,306.62 342.07,306.52 342.34,306.43 342.62,306.33 342.89,306.23 343.16,306.13 343.44,306.03 343.71,305.93 343.99,305.83 344.26,305.73 344.53,305.63 344.81,305.53 345.08,305.43 345.36,305.33 345.63,305.22 345.91,305.12 346.18,305.01 346.45,304.91 346.73,304.8 347,304.7 347.28,304.59 347.55,304.49 347.82,304.38 348.1,304.27 348.37,304.16 348.65,304.05 348.92,303.94 349.19,303.82 349.47,303.71 349.74,303.6 350.02,303.48 350.29,303.37 350.56,303.25 350.84,303.13 351.11,303.02 351.39,302.9 351.66,302.78 351.94,302.66 352.21,302.54 352.48,302.42 352.76,302.3 353.03,302.17 353.31,302.05 353.58,301.93 353.85,301.8 354.13,301.68 354.4,301.55 354.68,301.43 354.95,301.3 355.22,301.18 355.5,301.05 355.77,300.92 356.05,300.79 356.32,300.66 356.6,300.54 356.87,300.41 357.14,300.28 357.42,300.15 357.69,300.02 357.97,299.89 358.24,299.76 358.51,299.63 358.79,299.5 359.06,299.36 359.34,299.23 359.61,299.1 359.88,298.97 360.16,298.84 360.43,298.71 360.71,298.57 360.98,298.44 361.25,298.31 361.53,298.18 361.8,298.04 362.08,297.91 362.35,297.78 362.63,297.65 362.9,297.52 363.17,297.38 363.45,297.25 363.72,297.12 364,296.99 364.27,296.85 364.54,296.72 364.82,296.59 365.09,296.46 365.37,296.33 365.64,296.2 365.91,296.06 366.19,295.93 366.46,295.8 366.74,295.67 367.01,295.53 367.29,295.4 367.56,295.27 367.83,295.13 368.11,295 368.38,294.86 368.66,294.73 368.93,294.59 369.2,294.46 369.48,294.32 369.75,294.19 370.03,294.05 370.3,293.92 370.57,293.78 370.85,293.64 371.12,293.51 371.4,293.37 371.67,293.23 371.95,293.1 372.22,292.96 372.49,292.82 372.77,292.68 373.04,292.55 373.32,292.41 373.59,292.27 373.86,292.13 374.14,291.99 374.41,291.85 374.69,291.71 374.96,291.57 375.23,291.43 375.51,291.29 375.78,291.15 376.06,291.01 376.33,290.87 376.6,290.73 376.88,290.59 377.15,290.45 377.43,290.31 377.7,290.17 377.98,290.02 378.25,289.88 378.52,289.74 378.8,289.6 379.07,289.45 379.35,289.31 379.62,289.17 379.89,289.02 380.17,288.88 380.44,288.74 380.72,288.59 380.99,288.45 381.26,288.3 381.54,288.16 381.81,288.01 382.09,287.87 382.36,287.72 382.64,287.58 382.91,287.43 383.18,287.28 383.46,287.12 383.73,286.97 384.01,286.81 384.28,286.64 384.55,286.48 384.83,286.31 385.1,286.15 385.38,285.98 385.65,285.82 385.92,285.65 386.2,285.48 386.47,285.32 386.75,285.15 387.02,284.99 387.29,284.83 387.57,284.67 387.84,284.52 388.12,284.36 388.39,284.21 388.67,284.07 388.94,283.92 389.21,283.79 389.49,283.65 389.76,283.53 390.04,283.4 390.31,283.28 390.58,283.17 390.86,283.05 391.13,282.94 391.41,282.82 391.68,282.71 391.95,282.6 392.23,282.49 392.5,282.39 392.78,282.28 393.05,282.17 393.33,282.07 393.6,281.97 393.87,281.87 394.15,281.77 394.42,281.67 394.7,281.57 394.97,281.48 395.24,281.38 395.52,281.29 395.79,281.2 396.07,281.11 396.34,281.02 396.61,280.93 396.89,280.85 397.16,280.76 397.44,280.68 397.71,280.6 397.99,280.52 398.26,280.44 398.53,280.36 398.81,280.29 399.08,280.21 399.36,280.14 399.63,280.07 399.9,280 400.18,279.93 400.45,279.86 400.73,279.79 401,279.72 401.27,279.65 401.55,279.58 401.82,279.52 402.1,279.45 402.37,279.38 402.64,279.31 402.92,279.25 403.19,279.18 403.47,279.12 403.74,279.05 404.02,278.99 404.29,278.93 404.56,278.87 404.84,278.81 405.11,278.75 405.39,278.7 405.66,278.64 405.93,278.59 406.21,278.54 406.48,278.49 406.76,278.44 407.03,278.39 407.3,278.35 407.58,278.31 407.85,278.27 408.13,278.23 408.4,278.2 408.68,278.16 408.95,278.13 409.22,278.11 409.5,278.09 409.77,278.07 410.05,278.05 410.32,278.04 410.59,278.03 410.87,278.02 411.14,278.02 411.42,278.01 411.69,278.01 411.96,278.01 412.24,278.01 412.51,278.02 412.79,278.02 413.06,278.03 413.33,278.05 413.61,278.07 413.88,278.1 414.16,278.13 414.43,278.17 414.71,278.21 414.98,278.26 415.25,278.32 415.53,278.38 415.8,278.44 416.08,278.5 416.35,278.57 416.62,278.65 416.9,278.72 417.17,278.8 417.45,278.88 417.72,278.96 417.99,279.05 418.27,279.14 418.54,279.22 418.82,279.31 419.09,279.4 419.37,279.5 419.64,279.59 419.91,279.68 420.19,279.77 420.46,279.86 420.74,279.95 421.01,280.04 421.28,280.15 421.56,280.26 421.83,280.38 422.11,280.5 422.38,280.64 422.65,280.79 422.93,280.94 423.2,281.1 423.48,281.27 423.75,281.44 424.02,281.63 424.3,281.82 424.57,282.01 424.85,282.21 425.12,282.42 425.4,282.64 425.67,282.86 425.94,283.08 426.22,283.31 426.49,283.55 426.77,283.79 427.04,284.04 427.31,284.29 427.59,284.54 427.86,284.8 428.14,285.06 428.41,285.32 428.68,285.59 428.96,285.86 429.23,286.14 429.51,286.41 429.78,286.69 430.06,286.97 430.33,287.25 430.6,287.54 430.88,287.82 431.15,288.11 431.43,288.4 431.7,288.69 431.97,289.01 432.25,289.35 432.52,289.71 432.8,290.09 433.07,290.49 433.34,290.9 433.62,291.33 433.89,291.78 434.17,292.24 434.44,292.71 434.72,293.19 434.99,293.69 435.26,294.19 435.54,294.7 435.81,295.22 436.09,295.75 436.36,296.28 436.63,296.82 436.91,297.36 437.18,297.9 437.46,298.44 437.73,298.98 438,299.52 438.28,300.06 438.55,300.6 438.83,301.16 439.1,301.72 439.37,302.29 439.65,302.88 439.92,303.47 440.2,304.08 440.47,304.69 440.75,305.31 441.02,305.94 441.29,306.58 441.57,307.23 441.84,307.88 442.12,308.55 442.39,309.22 442.66,309.9 442.94,310.59 443.21,311.29 443.49,311.99 443.76,312.7 444.03,313.42 444.31,314.15 444.58,314.88 444.86,315.62 445.13,316.36 445.41,317.12 445.68,317.88 445.95,318.66 446.23,319.47 446.5,320.3 446.78,321.14 447.05,322 447.32,322.87 447.6,323.76 447.87,324.66 448.15,325.57 448.42,326.49 448.69,327.41 448.97,328.34 449.24,329.27 449.52,330.2 449.79,331.13 450.06,332.06 450.34,332.98 450.61,333.91 450.89,334.82 451.16,335.75 451.44,336.69 451.71,337.65 451.98,338.62 452.26,339.6 452.53,340.58 452.81,341.57 453.08,342.55 453.35,343.54 453.63,344.51 453.9,345.48 454.18,346.43 454.45,347.37 454.72,348.3 455,349.2 455.27,350.07 455.55,350.92 455.82,351.74 456.1,352.54 456.37,353.33 456.64,354.12 456.92,354.9 457.19,355.68 457.47,356.45 457.74,357.21 458.01,357.97 458.29,358.71 458.56,359.45 458.84,360.18 459.11,360.89 459.38,361.59 459.66,362.28 459.93,362.96 460.21,363.62 460.48,364.26 460.76,364.89 461.03,365.51 461.3,366.1 461.58,366.68 461.85,367.23 462.13,367.77 462.4,368.28 462.67,368.77 462.95,369.24 463.22,369.7 463.5,370.16 463.77,370.62 464.04,371.07 464.32,371.53 464.59,371.98 464.87,372.42 465.14,372.86 465.41,373.3 465.69,373.74 465.96,374.17 466.24,374.6 466.51,375.02 466.79,375.44 467.06,375.85 467.33,376.25 467.61,376.65 467.88,377.05 468.16,377.44 468.43,377.82 468.7,378.19 468.98,378.56 469.25,378.92 469.53,379.27 469.8,379.61 470.07,379.94 470.35,380.27 470.62,380.59 470.9,380.89 471.17,381.19 471.45,381.48 471.72,381.76 471.99,382.03 472.27,382.28 472.54,382.53 472.82,382.76 473.09,382.98 473.36,383.2 473.64,383.4 473.91,383.61 474.19,383.81 474.46,384.02 474.73,384.22 475.01,384.43 475.28,384.63 475.56,384.84 475.83,385.04 476.1,385.24 476.38,385.44 476.65,385.64 476.93,385.84 477.2,386.04 477.48,386.24 477.75,386.43 478.02,386.63 478.3,386.82 478.57,387.01 478.85,387.21 479.12,387.4 479.39,387.59 479.67,387.77 479.94,387.96 480.22,388.14 480.49,388.33 480.76,388.51 481.04,388.69 481.31,388.87 481.59,389.05 481.86,389.22 482.14,389.39 482.41,389.57 482.68,389.73 482.96,389.9 483.23,390.07 483.51,390.23 483.78,390.39 484.05,390.55 484.33,390.71 484.6,390.86 484.88,391.02 485.15,391.17 485.42,391.31 485.7,391.46 485.97,391.6 486.25,391.74 486.52,391.88 486.8,392.02 487.07,392.15 487.34,392.28 487.62,392.41 487.89,392.53 488.17,392.65 488.44,392.77 488.71,392.89 488.99,393 489.26,393.11 489.54,393.21 489.81,393.32 490.08,393.42 490.36,393.51 490.63,393.61 490.91,393.7 491.18,393.79 491.45,393.88 491.73,393.98 492,394.07 492.28,394.16 492.55,394.25 492.83,394.34 493.1,394.43 493.37,394.52 493.65,394.61 493.92,394.7 494.2,394.79 494.47,394.87 494.74,394.96 495.02,395.05 495.29,395.14 495.57,395.22 495.84,395.31 496.11,395.39 496.39,395.48 496.66,395.56 496.94,395.65 497.21,395.73 497.49,395.81 497.76,395.9 498.03,395.98 498.31,396.06 498.58,396.14 498.86,396.22 499.13,396.3 499.4,396.38 499.68,396.46 499.95,396.54 500.23,396.62 500.5,396.7 500.77,396.78 501.05,396.85 501.32,396.93 501.6,397 501.87,397.08 502.14,397.15 502.42,397.23 502.69,397.3 502.97,397.38 503.24,397.45 503.52,397.52 503.79,397.59 504.06,397.66 504.34,397.73 504.61,397.8 504.89,397.87 505.16,397.94 505.43,398.01 505.71,398.08 505.98,398.14 506.26,398.21 506.53,398.28 506.8,398.34 507.08,398.4 507.35,398.47 507.63,398.53 507.9,398.59 508.18,398.66 508.45,398.72 508.72,398.78 509,398.84 509.27,398.91 509.55,398.97 509.82,399.03 510.09,399.09 510.37,399.16 510.64,399.22 510.92,399.28 511.19,399.35 511.46,399.41 511.74,399.47 512.01,399.53 512.29,399.59 512.56,399.65 512.84,399.72 513.11,399.78 513.38,399.84 513.66,399.9 513.93,399.96 514.21,400.02 514.48,400.07 514.75,400.13 515.03,400.19 515.3,400.25 515.58,400.3 515.85,400.36 516.12,400.42 516.4,400.47 516.67,400.53 516.95,400.58 517.22,400.63 517.49,400.68 517.77,400.74 518.04,400.79 518.32,400.84 518.59,400.88 518.87,400.93 519.14,400.98 519.41,401.03 519.69,401.07 519.96,401.11 520.24,401.16 520.51,401.2" fill="none" stroke="#1f77b4" stroke-width="1.1" stroke-linejoin="round" stroke-linecap="round"/>
<polyline points="301.5,315.07 301.77,315.01 302.05,314.95 302.32,314.89 302.6,314.83 302.87,314.77 303.14,314.71 303.42,314.64 303.69,314.58 303.97,314.52 304.24,314.46 304.52,314.4 304.79,314.33 305.06,314.27 305.34,314.21 305.61,314.15 305.89,314.09 306.16,314.02 306.43,313.96 306.71,313.9 306.98,313.84 307.26,313.77 307.53,313.71 307.8,313.65 308.08,313.59 308.35,313.52 308.63,313.46 308.9,313.4 309.17,313.33 309.45,313.27 309.72,313.21 310,313.14 310.27,313.08 310.55,313.02 310.82,312.96 311.09,312.89 311.37,312.83 311.64,312.77 311.92,312.7 312.19,312.64 312.46,312.58 312.74,312.51 313.01,312.45 313.29,312.39 313.56,312.32 313.83,312.26 314.11,312.19 314.38,312.13 314.66,312.07 314.93,312 315.21,311.94 315.48,311.88 315.75,311.81 316.03,311.75 316.3,311.69 316.58,311.62 316.85,311.56 317.12,311.5 317.4,311.43 317.67,311.37 317.95,311.31 318.22,311.24 318.49,311.18 318.77,311.12 319.04,311.05 319.32,310.99 319.59,310.93 319.87,310.86 320.14,310.8 320.41,310.74 320.69,310.67 320.96,310.61 321.24,310.54 321.51,310.48 321.78,310.42 322.06,310.35 322.33,310.29 322.61,310.22 322.88,310.16 323.15,310.09 323.43,310.03 323.7,309.96 323.98,309.9 324.25,309.83 324.52,309.77 324.8,309.7 325.07,309.64 325.35,309.57 325.62,309.51 325.9,309.44 326.17,309.37 326.44,309.31 326.72,309.24 326.99,309.17 327.27,309.11 327.54,309.04 327.81,308.97 328.09,308.9 328.36,308.84 328.64,308.77 328.91,308.7 329.18,308.63 329.46,308.56 329.73,308.49 330.01,308.42 330.28,308.36 330.56,308.29 330.83,308.22 331.1,308.15 331.38,308.08 331.65,308.01 331.93,307.94 332.2,307.87 332.47,307.8 332.75,307.73 333.02,307.66 333.3,307.59 333.57,307.52 333.84,307.45 334.12,307.37 334.39,307.3 334.67,307.23 334.94,307.16 335.21,307.09 335.49,307.02 335.76,306.94 336.04,306.87 336.31,306.8 336.59,306.72 336.86,306.65 337.13,306.57 337.41,306.5 337.68,306.42 337.96,306.35 338.23,306.27 338.5,306.2 338.78,306.12 339.05,306.04 339.33,305.96 339.6,305.89 339.87,305.81 340.15,305.73 340.42,305.65 340.7,305.57 340.97,305.49 341.25,305.41 341.52,305.32 341.79,305.24 342.07,305.16 342.34,305.07 342.62,304.99 342.89,304.91 343.16,304.82 343.44,304.73 343.71,304.65 343.99,304.56 344.26,304.47 344.53,304.38 344.81,304.29 345.08,304.2 345.36,304.11 345.63,304.02 345.91,303.92 346.18,303.83 346.45,303.74 346.73,303.64 347,303.54 347.28,303.45 347.55,303.35 347.82,303.25 348.1,303.15 348.37,303.05 348.65,302.94 348.92,302.84 349.19,302.73 349.47,302.62 349.74,302.51 350.02,302.4 350.29,302.28 350.56,302.17 350.84,302.05 351.11,301.93 351.39,301.82 351.66,301.7 351.94,301.57 352.21,301.45 352.48,301.33 352.76,301.2 353.03,301.08 353.31,300.95 353.58,300.82 353.85,300.7 354.13,300.57 354.4,300.44 354.68,300.31 354.95,300.18 355.22,300.04 355.5,299.91 355.77,299.78 356.05,299.64 356.32,299.51 356.6,299.37 356.87,299.24 357.14,299.1 357.42,298.97 357.69,298.83 357.97,298.69 358.24,298.56 358.51,298.42 358.79,298.28 359.06,298.14 359.34,298 359.61,297.87 359.88,297.73 360.16,297.59 360.43,297.45 360.71,297.32 360.98,297.18 361.25,297.04 361.53,296.9 361.8,296.77 362.08,296.63 362.35,296.49 362.63,296.36 362.9,296.22 363.17,296.09 363.45,295.95 363.72,295.82 364,295.69 364.27,295.55 364.54,295.42 364.82,295.29 365.09,295.16 365.37,295.03 365.64,294.9 365.91,294.77 366.19,294.64 366.46,294.51 366.74,294.38 367.01,294.25 367.29,294.11 367.56,293.98 367.83,293.85 368.11,293.72 368.38,293.59 368.66,293.46 368.93,293.33 369.2,293.2 369.48,293.07 369.75,292.94 370.03,292.81 370.3,292.67 370.57,292.54 370.85,292.41 371.12,292.28 371.4,292.15 371.67,292.02 371.95,291.88 372.22,291.75 372.49,291.62 372.77,291.49 373.04,291.36 373.32,291.22 373.59,291.09 373.86,290.96 374.14,290.82 374.41,290.69 374.69,290.56 374.96,290.42 375.23,290.29 375.51,290.16 375.78,290.02 376.06,289.89 376.33,289.76 376.6,289.62 376.88,289.49 377.15,289.35 377.43,289.22 377.7,289.08 377.98,288.95 378.25,288.81 378.52,288.67 378.8,288.54 379.07,288.4 379.35,288.26 379.62,288.13 379.89,287.99 380.17,287.85 380.44,287.72 380.72,287.58 380.99,287.44 381.26,287.3 381.54,287.16 381.81,287.02 382.09,286.88 382.36,286.74 382.64,286.6 382.91,286.46 383.18,286.31 383.46,286.17 383.73,286.01 384.01,285.86 384.28,285.7 384.55,285.54 384.83,285.38 385.1,285.22 385.38,285.06 385.65,284.9 385.92,284.74 386.2,284.57 386.47,284.41 386.75,284.26 387.02,284.1 387.29,283.94 387.57,283.79 387.84,283.64 388.12,283.49 388.39,283.35 388.67,283.21 388.94,283.08 389.21,282.95 389.49,282.82 389.76,282.7 390.04,282.59 390.31,282.48 390.58,282.37 390.86,282.27 391.13,282.16 391.41,282.06 391.68,281.96 391.95,281.86 392.23,281.76 392.5,281.67 392.78,281.57 393.05,281.48 393.33,281.39 393.6,281.3 393.87,281.21 394.15,281.12 394.42,281.03 394.7,280.95 394.97,280.86 395.24,280.78 395.52,280.7 395.79,280.62 396.07,280.54 396.34,280.46 396.61,280.38 396.89,280.3 397.16,280.23 397.44,280.15 397.71,280.08 397.99,280.01 398.26,279.93 398.53,279.86 398.81,279.79 399.08,279.72 399.36,279.65 399.63,279.58 399.9,279.51 400.18,279.44 400.45,279.37 400.73,279.3 401,279.23 401.27,279.16 401.55,279.09 401.82,279.02 402.1,278.95 402.37,278.88 402.64,278.81 402.92,278.74 403.19,278.67 403.47,278.6 403.74,278.53 404.02,278.47 404.29,278.4 404.56,278.34 404.84,278.28 405.11,278.22 405.39,278.16 405.66,278.11 405.93,278.05 406.21,278 406.48,277.96 406.76,277.91 407.03,277.87 407.3,277.83 407.58,277.79 407.85,277.76 408.13,277.73 408.4,277.71 408.68,277.68 408.95,277.67 409.22,277.65 409.5,277.65 409.77,277.64 410.05,277.64 410.32,277.65 410.59,277.65 410.87,277.67 411.14,277.68 411.42,277.7 411.69,277.73 411.96,277.75 412.24,277.78 412.51,277.82 412.79,277.85 413.06,277.89 413.33,277.93 413.61,277.98 413.88,278.03 414.16,278.08 414.43,278.13 414.71,278.19 414.98,278.25 415.25,278.31 415.53,278.37 415.8,278.44 416.08,278.5 416.35,278.57 416.62,278.64 416.9,278.72 417.17,278.79 417.45,278.87 417.72,278.94 417.99,279.02 418.27,279.1 418.54,279.18 418.82,279.26 419.09,279.35 419.37,279.43 419.64,279.51 419.91,279.6 420.19,279.68 420.46,279.77 420.74,279.86 421.01,279.94 421.28,280.03 421.56,280.12 421.83,280.2 422.11,280.29 422.38,280.38 422.65,280.46 422.93,280.55 423.2,280.63 423.48,280.72 423.75,280.8 424.02,280.89 424.3,280.98 424.57,281.08 424.85,281.18 425.12,281.29 425.4,281.41 425.67,281.53 425.94,281.65 426.22,281.78 426.49,281.91 426.77,282.05 427.04,282.2 427.31,282.34 427.59,282.49 427.86,282.65 428.14,282.81 428.41,282.97 428.68,283.13 428.96,283.3 429.23,283.47 429.51,283.65 429.78,283.82 430.06,284 430.33,284.18 430.6,284.37 430.88,284.55 431.15,284.74 431.43,284.93 431.7,285.12 431.97,285.32 432.25,285.51 432.52,285.71 432.8,285.9 433.07,286.1 433.34,286.3 433.62,286.49 433.89,286.69 434.17,286.89 434.44,287.09 434.72,287.29 434.99,287.49 435.26,287.69 435.54,287.88 435.81,288.08 436.09,288.28 436.36,288.47 436.63,288.67 436.91,288.87 437.18,289.08 437.46,289.29 437.73,289.51 438,289.73 438.28,289.96 438.55,290.19 438.83,290.42 439.1,290.66 439.37,290.9 439.65,291.15 439.92,291.41 440.2,291.66 440.47,291.92 440.75,292.19 441.02,292.46 441.29,292.74 441.57,293.01 441.84,293.3 442.12,293.58 442.39,293.88 442.66,294.17 442.94,294.47 443.21,294.78 443.49,295.08 443.76,295.4 444.03,295.71 444.31,296.03 444.58,296.36 444.86,296.69 445.13,297.02 445.41,297.36 445.68,297.7 445.95,298.04 446.23,298.39 446.5,298.74 446.78,299.1 447.05,299.46 447.32,299.83 447.6,300.2 447.87,300.59 448.15,301 448.42,301.43 448.69,301.88 448.97,302.35 449.24,302.84 449.52,303.34 449.79,303.85 450.06,304.38 450.34,304.93 450.61,305.48 450.89,306.05 451.16,306.63 451.44,307.21 451.71,307.81 451.98,308.41 452.26,309.02 452.53,309.64 452.81,310.26 453.08,310.89 453.35,311.52 453.63,312.15 453.9,312.78 454.18,313.42 454.45,314.05 454.72,314.68 455,315.31 455.27,315.94 455.55,316.56 455.82,317.18 456.1,317.8 456.37,318.41 456.64,319.04 456.92,319.66 457.19,320.29 457.47,320.93 457.74,321.58 458.01,322.23 458.29,322.89 458.56,323.56 458.84,324.24 459.11,324.94 459.38,325.64 459.66,326.36 459.93,327.1 460.21,327.84 460.48,328.61 460.76,329.39 461.03,330.19 461.3,331.01 461.58,331.84 461.85,332.7 462.13,333.58 462.4,334.47 462.67,335.42 462.95,336.44 463.22,337.53 463.5,338.69 463.77,339.89 464.04,341.14 464.32,342.42 464.59,343.73 464.87,345.06 465.14,346.39 465.41,347.73 465.69,349.06 465.96,350.37 466.24,351.66 466.51,352.95 466.79,354.31 467.06,355.72 467.33,357.15 467.61,358.59 467.88,360 468.16,361.37 468.43,362.67 468.7,363.88 468.98,364.97 469.25,365.93 469.53,366.82 469.8,367.69 470.07,368.54 470.35,369.37 470.62,370.18 470.9,370.97 471.17,371.74 471.45,372.48 471.72,373.19 471.99,373.89 472.27,374.55 472.54,375.19 472.82,375.8 473.09,376.38 473.36,376.93 473.64,377.45 473.91,377.94 474.19,378.4 474.46,378.83 474.73,379.22 475.01,379.58 475.28,379.92 475.56,380.26 475.83,380.6 476.1,380.94 476.38,381.27 476.65,381.61 476.93,381.94 477.2,382.27 477.48,382.6 477.75,382.93 478.02,383.25 478.3,383.57 478.57,383.88 478.85,384.2 479.12,384.51 479.39,384.81 479.67,385.11 479.94,385.41 480.22,385.7 480.49,385.99 480.76,386.27 481.04,386.54 481.31,386.81 481.59,387.07 481.86,387.33 482.14,387.58 482.41,387.83 482.68,388.06 482.96,388.29 483.23,388.51 483.51,388.73 483.78,388.93 484.05,389.13 484.33,389.32 484.6,389.5 484.88,389.67 485.15,389.84 485.42,389.99 485.7,390.14 485.97,390.29 486.25,390.44 486.52,390.59 486.8,390.73 487.07,390.88 487.34,391.03 487.62,391.18 487.89,391.33 488.17,391.48 488.44,391.63 488.71,391.78 488.99,391.93 489.26,392.07 489.54,392.22 489.81,392.37 490.08,392.52 490.36,392.66 490.63,392.81 490.91,392.95 491.18,393.1 491.45,393.24 491.73,393.38 492,393.52 492.28,393.66 492.55,393.8 492.83,393.94 493.1,394.08 493.37,394.21 493.65,394.35 493.92,394.48 494.2,394.62 494.47,394.75 494.74,394.88 495.02,395.01 495.29,395.13 495.57,395.26 495.84,395.38 496.11,395.5 496.39,395.62 496.66,395.74 496.94,395.86 497.21,395.98 497.49,396.09 497.76,396.2 498.03,396.31 498.31,396.42 498.58,396.52 498.86,396.62 499.13,396.72 499.4,396.82 499.68,396.92 499.95,397.01 500.23,397.1 500.5,397.19 500.77,397.28 501.05,397.36 501.32,397.44 501.6,397.52 501.87,397.6 502.14,397.67 502.42,397.74 502.69,397.81 502.97,397.88 503.24,397.94 503.52,398.01 503.79,398.08 504.06,398.15 504.34,398.22 504.61,398.28 504.89,398.35 505.16,398.42 505.43,398.49 505.71,398.56 505.98,398.63 506.26,398.69 506.53,398.76 506.8,398.83 507.08,398.9 507.35,398.96 507.63,399.03 507.9,399.1 508.18,399.17 508.45,399.23 508.72,399.3 509,399.36 509.27,399.43 509.55,399.49 509.82,399.55 510.09,399.62 510.37,399.68 510.64,399.74 510.92,399.8 511.19,399.86 511.46,399.92 511.74,399.98 512.01,400.04 512.29,400.09 512.56,400.15 512.84,400.2 513.11,400.26 513.38,400.31 513.66,400.36 513.93,400.41 514.21,400.46 514.48,400.51 514.75,400.56 515.03,400.6 515.3,400.65 515.58,400.69 515.85,400.73 516.12,400.77 516.4,400.81 516.67,400.85 516.95,400.89 517.22,400.92 517.49,400.95 517.77,400.98 518.04,401.01 518.32,401.04 518.59,401.07 518.87,401.09 519.14,401.12 519.41,401.14 519.69,401.15 519.96,401.17 520.24,401.19 520.51,401.2" fill="none" stroke="#ff7f0e" stroke-width="1.15" stroke-linejoin="round" stroke-linecap="round"/>
<polyline points="301.5,309.88 301.77,309.8 302.05,309.72 302.32,309.64 302.6,309.57 302.87,309.49 303.14,309.41 303.42,309.34 303.69,309.26 303.97,309.18 304.24,309.11 304.52,309.03 304.79,308.96 305.06,308.88 305.34,308.8 305.61,308.73 305.89,308.65 306.16,308.58 306.43,308.5 306.71,308.43 306.98,308.36 307.26,308.28 307.53,308.21 307.8,308.13 308.08,308.06 308.35,307.99 308.63,307.91 308.9,307.84 309.17,307.77 309.45,307.7 309.72,307.62 310,307.55 310.27,307.48 310.55,307.41 310.82,307.34 311.09,307.27 311.37,307.19 311.64,307.12 311.92,307.05 312.19,306.98 312.46,306.91 312.74,306.84 313.01,306.77 313.29,306.7 313.56,306.63 313.83,306.57 314.11,306.5 314.38,306.43 314.66,306.36 314.93,306.29 315.21,306.23 315.48,306.16 315.75,306.09 316.03,306.03 316.3,305.96 316.58,305.89 316.85,305.83 317.12,305.76 317.4,305.7 317.67,305.63 317.95,305.57 318.22,305.5 318.49,305.44 318.77,305.38 319.04,305.31 319.32,305.25 319.59,305.18 319.87,305.12 320.14,305.06 320.41,304.99 320.69,304.93 320.96,304.87 321.24,304.8 321.51,304.74 321.78,304.68 322.06,304.61 322.33,304.55 322.61,304.49 322.88,304.42 323.15,304.36 323.43,304.3 323.7,304.23 323.98,304.17 324.25,304.11 324.52,304.04 324.8,303.98 325.07,303.91 325.35,303.85 325.62,303.79 325.9,303.72 326.17,303.66 326.44,303.59 326.72,303.53 326.99,303.46 327.27,303.4 327.54,303.33 327.81,303.27 328.09,303.2 328.36,303.14 328.64,303.07 328.91,303.01 329.18,302.94 329.46,302.87 329.73,302.8 330.01,302.74 330.28,302.67 330.56,302.6 330.83,302.53 331.1,302.47 331.38,302.4 331.65,302.33 331.93,302.26 332.2,302.2 332.47,302.13 332.75,302.06 333.02,301.99 333.3,301.92 333.57,301.86 333.84,301.79 334.12,301.72 334.39,301.65 334.67,301.58 334.94,301.51 335.21,301.45 335.49,301.38 335.76,301.31 336.04,301.24 336.31,301.17 336.59,301.1 336.86,301.03 337.13,300.96 337.41,300.89 337.68,300.82 337.96,300.75 338.23,300.68 338.5,300.61 338.78,300.54 339.05,300.47 339.33,300.4 339.6,300.33 339.87,300.26 340.15,300.19 340.42,300.12 340.7,300.04 340.97,299.97 341.25,299.9 341.52,299.83 341.79,299.75 342.07,299.68 342.34,299.61 342.62,299.53 342.89,299.46 343.16,299.39 343.44,299.31 343.71,299.24 343.99,299.16 344.26,299.09 344.53,299.01 344.81,298.93 345.08,298.86 345.36,298.78 345.63,298.7 345.91,298.63 346.18,298.55 346.45,298.47 346.73,298.39 347,298.31 347.28,298.23 347.55,298.15 347.82,298.07 348.1,297.99 348.37,297.91 348.65,297.83 348.92,297.75 349.19,297.67 349.47,297.58 349.74,297.5 350.02,297.41 350.29,297.33 350.56,297.24 350.84,297.16 351.11,297.07 351.39,296.98 351.66,296.9 351.94,296.81 352.21,296.72 352.48,296.63 352.76,296.54 353.03,296.45 353.31,296.36 353.58,296.27 353.85,296.17 354.13,296.08 354.4,295.99 354.68,295.89 354.95,295.8 355.22,295.71 355.5,295.61 355.77,295.51 356.05,295.42 356.32,295.32 356.6,295.22 356.87,295.12 357.14,295.03 357.42,294.93 357.69,294.83 357.97,294.73 358.24,294.63 358.51,294.52 358.79,294.42 359.06,294.32 359.34,294.22 359.61,294.11 359.88,294.01 360.16,293.9 360.43,293.8 360.71,293.69 360.98,293.59 361.25,293.48 361.53,293.37 361.8,293.26 362.08,293.15 362.35,293.04 362.63,292.93 362.9,292.82 363.17,292.71 363.45,292.6 363.72,292.49 364,292.38 364.27,292.26 364.54,292.15 364.82,292.04 365.09,291.92 365.37,291.8 365.64,291.69 365.91,291.56 366.19,291.44 366.46,291.32 366.74,291.19 367.01,291.07 367.29,290.94 367.56,290.81 367.83,290.68 368.11,290.55 368.38,290.41 368.66,290.28 368.93,290.14 369.2,290.01 369.48,289.87 369.75,289.73 370.03,289.59 370.3,289.45 370.57,289.31 370.85,289.17 371.12,289.03 371.4,288.88 371.67,288.74 371.95,288.59 372.22,288.45 372.49,288.3 372.77,288.16 373.04,288.01 373.32,287.86 373.59,287.72 373.86,287.57 374.14,287.42 374.41,287.27 374.69,287.13 374.96,286.98 375.23,286.83 375.51,286.68 375.78,286.54 376.06,286.39 376.33,286.24 376.6,286.09 376.88,285.95 377.15,285.8 377.43,285.66 377.7,285.51 377.98,285.37 378.25,285.22 378.52,285.08 378.8,284.93 379.07,284.79 379.35,284.65 379.62,284.51 379.89,284.37 380.17,284.23 380.44,284.09 380.72,283.96 380.99,283.82 381.26,283.69 381.54,283.55 381.81,283.42 382.09,283.29 382.36,283.16 382.64,283.03 382.91,282.9 383.18,282.78 383.46,282.65 383.73,282.52 384.01,282.39 384.28,282.27 384.55,282.14 384.83,282.01 385.1,281.89 385.38,281.76 385.65,281.64 385.92,281.52 386.2,281.39 386.47,281.27 386.75,281.15 387.02,281.03 387.29,280.92 387.57,280.8 387.84,280.68 388.12,280.57 388.39,280.46 388.67,280.35 388.94,280.24 389.21,280.13 389.49,280.03 389.76,279.93 390.04,279.83 390.31,279.73 390.58,279.63 390.86,279.53 391.13,279.43 391.41,279.33 391.68,279.23 391.95,279.14 392.23,279.04 392.5,278.94 392.78,278.85 393.05,278.75 393.33,278.66 393.6,278.56 393.87,278.47 394.15,278.38 394.42,278.28 394.7,278.19 394.97,278.11 395.24,278.02 395.52,277.93 395.79,277.84 396.07,277.76 396.34,277.68 396.61,277.59 396.89,277.51 397.16,277.44 397.44,277.36 397.71,277.28 397.99,277.21 398.26,277.14 398.53,277.07 398.81,277 399.08,276.93 399.36,276.87 399.63,276.8 399.9,276.74 400.18,276.69 400.45,276.63 400.73,276.57 401,276.51 401.27,276.46 401.55,276.4 401.82,276.34 402.1,276.29 402.37,276.24 402.64,276.18 402.92,276.13 403.19,276.08 403.47,276.03 403.74,275.98 404.02,275.94 404.29,275.89 404.56,275.85 404.84,275.8 405.11,275.76 405.39,275.72 405.66,275.69 405.93,275.65 406.21,275.62 406.48,275.59 406.76,275.56 407.03,275.53 407.3,275.5 407.58,275.48 407.85,275.46 408.13,275.44 408.4,275.43 408.68,275.42 408.95,275.4 409.22,275.4 409.5,275.39 409.77,275.39 410.05,275.39 410.32,275.39 410.59,275.39 410.87,275.39 411.14,275.4 411.42,275.41 411.69,275.42 411.96,275.43 412.24,275.45 412.51,275.46 412.79,275.48 413.06,275.5 413.33,275.53 413.61,275.55 413.88,275.57 414.16,275.6 414.43,275.63 414.71,275.66 414.98,275.69 415.25,275.73 415.53,275.76 415.8,275.8 416.08,275.84 416.35,275.87 416.62,275.92 416.9,275.96 417.17,276 417.45,276.05 417.72,276.09 417.99,276.14 418.27,276.19 418.54,276.24 418.82,276.29 419.09,276.34 419.37,276.39 419.64,276.44 419.91,276.5 420.19,276.55 420.46,276.61 420.74,276.67 421.01,276.72 421.28,276.78 421.56,276.84 421.83,276.9 422.11,276.96 422.38,277.03 422.65,277.09 422.93,277.15 423.2,277.21 423.48,277.28 423.75,277.34 424.02,277.41 424.3,277.47 424.57,277.54 424.85,277.6 425.12,277.67 425.4,277.74 425.67,277.8 425.94,277.87 426.22,277.94 426.49,278.01 426.77,278.07 427.04,278.14 427.31,278.21 427.59,278.28 427.86,278.34 428.14,278.41 428.41,278.48 428.68,278.55 428.96,278.62 429.23,278.7 429.51,278.78 429.78,278.86 430.06,278.95 430.33,279.05 430.6,279.15 430.88,279.25 431.15,279.36 431.43,279.47 431.7,279.59 431.97,279.71 432.25,279.83 432.52,279.96 432.8,280.09 433.07,280.22 433.34,280.36 433.62,280.5 433.89,280.64 434.17,280.79 434.44,280.94 434.72,281.09 434.99,281.24 435.26,281.4 435.54,281.56 435.81,281.72 436.09,281.88 436.36,282.05 436.63,282.22 436.91,282.39 437.18,282.56 437.46,282.73 437.73,282.9 438,283.08 438.28,283.26 438.55,283.44 438.83,283.62 439.1,283.8 439.37,283.98 439.65,284.16 439.92,284.35 440.2,284.53 440.47,284.72 440.75,284.9 441.02,285.09 441.29,285.27 441.57,285.46 441.84,285.64 442.12,285.83 442.39,286.02 442.66,286.2 442.94,286.39 443.21,286.57 443.49,286.76 443.76,286.94 444.03,287.12 444.31,287.31 444.58,287.5 444.86,287.69 445.13,287.89 445.41,288.08 445.68,288.28 445.95,288.48 446.23,288.69 446.5,288.9 446.78,289.11 447.05,289.32 447.32,289.53 447.6,289.75 447.87,289.97 448.15,290.19 448.42,290.41 448.69,290.64 448.97,290.86 449.24,291.09 449.52,291.32 449.79,291.56 450.06,291.79 450.34,292.03 450.61,292.26 450.89,292.5 451.16,292.75 451.44,292.99 451.71,293.23 451.98,293.48 452.26,293.73 452.53,293.98 452.81,294.23 453.08,294.48 453.35,294.73 453.63,294.99 453.9,295.24 454.18,295.5 454.45,295.76 454.72,296.02 455,296.28 455.27,296.54 455.55,296.8 455.82,297.06 456.1,297.33 456.37,297.59 456.64,297.86 456.92,298.13 457.19,298.39 457.47,298.66 457.74,298.93 458.01,299.2 458.29,299.47 458.56,299.74 458.84,300.01 459.11,300.28 459.38,300.55 459.66,300.83 459.93,301.11 460.21,301.39 460.48,301.69 460.76,301.98 461.03,302.28 461.3,302.59 461.58,302.9 461.85,303.22 462.13,303.54 462.4,303.86 462.67,304.19 462.95,304.52 463.22,304.86 463.5,305.2 463.77,305.55 464.04,305.9 464.32,306.25 464.59,306.61 464.87,306.97 465.14,307.33 465.41,307.7 465.69,308.07 465.96,308.44 466.24,308.82 466.51,309.21 466.79,309.61 467.06,310.03 467.33,310.45 467.61,310.88 467.88,311.32 468.16,311.77 468.43,312.22 468.7,312.67 468.98,313.13 469.25,313.6 469.53,314.06 469.8,314.52 470.07,314.99 470.35,315.45 470.62,315.91 470.9,316.37 471.17,316.82 471.45,317.28 471.72,317.73 471.99,318.18 472.27,318.64 472.54,319.1 472.82,319.58 473.09,320.06 473.36,320.56 473.64,321.07 473.91,321.6 474.19,322.15 474.46,322.73 474.73,323.36 475.01,324.13 475.28,325.02 475.56,326.02 475.83,327.11 476.1,328.27 476.38,329.49 476.65,330.75 476.93,332.1 477.2,333.7 477.48,335.5 477.75,337.44 478.02,339.48 478.3,341.58 478.57,343.73 478.85,346.1 479.12,348.68 479.39,351.45 479.67,354.38 479.94,358.1 480.22,362.4 480.49,366.67 480.76,370.29 481.04,372.63 481.31,373.93 481.59,375.14 481.86,376.28 482.14,377.33 482.41,378.32 482.68,379.24 482.96,380.08 483.23,380.86 483.51,381.56 483.78,382.21 484.05,382.79 484.33,383.31 484.6,383.77 484.88,384.16 485.15,384.51 485.42,384.79 485.7,385.05 485.97,385.32 486.25,385.58 486.52,385.85 486.8,386.11 487.07,386.38 487.34,386.65 487.62,386.92 487.89,387.18 488.17,387.45 488.44,387.72 488.71,387.98 488.99,388.25 489.26,388.51 489.54,388.77 489.81,389.03 490.08,389.29 490.36,389.54 490.63,389.79 490.91,390.04 491.18,390.28 491.45,390.52 491.73,390.76 492,390.99 492.28,391.21 492.55,391.43 492.83,391.65 493.1,391.86 493.37,392.06 493.65,392.26 493.92,392.45 494.2,392.63 494.47,392.81 494.74,392.98 495.02,393.14 495.29,393.29 495.57,393.43 495.84,393.57 496.11,393.7 496.39,393.83 496.66,393.97 496.94,394.1 497.21,394.24 497.49,394.37 497.76,394.51 498.03,394.64 498.31,394.78 498.58,394.91 498.86,395.05 499.13,395.18 499.4,395.32 499.68,395.45 499.95,395.58 500.23,395.71 500.5,395.84 500.77,395.97 501.05,396.1 501.32,396.23 501.6,396.35 501.87,396.48 502.14,396.6 502.42,396.72 502.69,396.84 502.97,396.96 503.24,397.07 503.52,397.19 503.79,397.3 504.06,397.41 504.34,397.51 504.61,397.61 504.89,397.71 505.16,397.81 505.43,397.91 505.71,398 505.98,398.09 506.26,398.17 506.53,398.25 506.8,398.33 507.08,398.41 507.35,398.48 507.63,398.55 507.9,398.62 508.18,398.69 508.45,398.76 508.72,398.84 509,398.91 509.27,398.98 509.55,399.05 509.82,399.12 510.09,399.2 510.37,399.27 510.64,399.34 510.92,399.41 511.19,399.48 511.46,399.55 511.74,399.62 512.01,399.69 512.29,399.75 512.56,399.82 512.84,399.89 513.11,399.95 513.38,400.02 513.66,400.08 513.93,400.15 514.21,400.21 514.48,400.27 514.75,400.33 515.03,400.39 515.3,400.44 515.58,400.5 515.85,400.55 516.12,400.61 516.4,400.66 516.67,400.71 516.95,400.75 517.22,400.8 517.49,400.84 517.77,400.89 518.04,400.93 518.32,400.97 518.59,401 518.87,401.04 519.14,401.07 519.41,401.1 519.69,401.13 519.96,401.16 520.24,401.18 520.51,401.2" fill="none" stroke="#2ca02c" stroke-width="1.2" stroke-linejoin="round" stroke-linecap="round"/>
<polyline points="301.5,311.66 301.77,311.55 302.05,311.43 302.32,311.32 302.6,311.21 302.87,311.09 303.14,310.98 303.42,310.87 303.69,310.76 303.97,310.64 304.24,310.53 304.52,310.42 304.79,310.31 305.06,310.2 305.34,310.09 305.61,309.98 305.89,309.87 306.16,309.76 306.43,309.65 306.71,309.54 306.98,309.43 307.26,309.32 307.53,309.21 307.8,309.11 308.08,309 308.35,308.89 308.63,308.79 308.9,308.68 309.17,308.58 309.45,308.47 309.72,308.37 310,308.26 310.27,308.16 310.55,308.06 310.82,307.96 311.09,307.85 311.37,307.75 311.64,307.65 311.92,307.55 312.19,307.45 312.46,307.35 312.74,307.26 313.01,307.16 313.29,307.06 313.56,306.96 313.83,306.87 314.11,306.77 314.38,306.68 314.66,306.58 314.93,306.49 315.21,306.39 315.48,306.3 315.75,306.21 316.03,306.11 316.3,306.02 316.58,305.93 316.85,305.84 317.12,305.75 317.4,305.65 317.67,305.56 317.95,305.47 318.22,305.38 318.49,305.29 318.77,305.2 319.04,305.11 319.32,305.03 319.59,304.94 319.87,304.85 320.14,304.76 320.41,304.67 320.69,304.58 320.96,304.49 321.24,304.41 321.51,304.32 321.78,304.23 322.06,304.14 322.33,304.06 322.61,303.97 322.88,303.88 323.15,303.79 323.43,303.71 323.7,303.62 323.98,303.53 324.25,303.45 324.52,303.36 324.8,303.27 325.07,303.19 325.35,303.1 325.62,303.01 325.9,302.92 326.17,302.84 326.44,302.75 326.72,302.66 326.99,302.57 327.27,302.49 327.54,302.4 327.81,302.31 328.09,302.22 328.36,302.14 328.64,302.05 328.91,301.96 329.18,301.87 329.46,301.78 329.73,301.69 330.01,301.6 330.28,301.51 330.56,301.43 330.83,301.34 331.1,301.25 331.38,301.16 331.65,301.07 331.93,300.98 332.2,300.9 332.47,300.81 332.75,300.72 333.02,300.63 333.3,300.55 333.57,300.46 333.84,300.37 334.12,300.29 334.39,300.2 334.67,300.11 334.94,300.03 335.21,299.94 335.49,299.85 335.76,299.77 336.04,299.68 336.31,299.59 336.59,299.51 336.86,299.42 337.13,299.33 337.41,299.25 337.68,299.16 337.96,299.07 338.23,298.99 338.5,298.9 338.78,298.81 339.05,298.72 339.33,298.64 339.6,298.55 339.87,298.46 340.15,298.37 340.42,298.29 340.7,298.2 340.97,298.11 341.25,298.02 341.52,297.93 341.79,297.84 342.07,297.75 342.34,297.66 342.62,297.57 342.89,297.48 343.16,297.39 343.44,297.3 343.71,297.21 343.99,297.11 344.26,297.02 344.53,296.93 344.81,296.83 345.08,296.74 345.36,296.65 345.63,296.55 345.91,296.46 346.18,296.36 346.45,296.26 346.73,296.17 347,296.07 347.28,295.97 347.55,295.87 347.82,295.78 348.1,295.68 348.37,295.58 348.65,295.48 348.92,295.37 349.19,295.27 349.47,295.17 349.74,295.07 350.02,294.96 350.29,294.86 350.56,294.76 350.84,294.65 351.11,294.54 351.39,294.44 351.66,294.33 351.94,294.22 352.21,294.12 352.48,294.01 352.76,293.9 353.03,293.79 353.31,293.68 353.58,293.57 353.85,293.46 354.13,293.35 354.4,293.24 354.68,293.13 354.95,293.02 355.22,292.9 355.5,292.79 355.77,292.68 356.05,292.57 356.32,292.45 356.6,292.34 356.87,292.22 357.14,292.11 357.42,291.99 357.69,291.88 357.97,291.76 358.24,291.65 358.51,291.53 358.79,291.41 359.06,291.3 359.34,291.18 359.61,291.06 359.88,290.94 360.16,290.82 360.43,290.71 360.71,290.59 360.98,290.47 361.25,290.35 361.53,290.23 361.8,290.11 362.08,289.99 362.35,289.87 362.63,289.75 362.9,289.63 363.17,289.51 363.45,289.39 363.72,289.27 364,289.15 364.27,289.03 364.54,288.91 364.82,288.79 365.09,288.67 365.37,288.54 365.64,288.42 365.91,288.3 366.19,288.17 366.46,288.05 366.74,287.92 367.01,287.79 367.29,287.66 367.56,287.53 367.83,287.4 368.11,287.27 368.38,287.14 368.66,287.01 368.93,286.88 369.2,286.74 369.48,286.61 369.75,286.48 370.03,286.34 370.3,286.21 370.57,286.07 370.85,285.94 371.12,285.8 371.4,285.66 371.67,285.53 371.95,285.39 372.22,285.25 372.49,285.12 372.77,284.98 373.04,284.84 373.32,284.71 373.59,284.57 373.86,284.43 374.14,284.3 374.41,284.16 374.69,284.02 374.96,283.89 375.23,283.75 375.51,283.61 375.78,283.48 376.06,283.34 376.33,283.21 376.6,283.07 376.88,282.94 377.15,282.8 377.43,282.67 377.7,282.54 377.98,282.41 378.25,282.27 378.52,282.14 378.8,282.01 379.07,281.88 379.35,281.75 379.62,281.62 379.89,281.5 380.17,281.37 380.44,281.24 380.72,281.12 380.99,281 381.26,280.87 381.54,280.75 381.81,280.63 382.09,280.51 382.36,280.39 382.64,280.27 382.91,280.16 383.18,280.04 383.46,279.93 383.73,279.81 384.01,279.7 384.28,279.59 384.55,279.48 384.83,279.37 385.1,279.26 385.38,279.15 385.65,279.05 385.92,278.94 386.2,278.83 386.47,278.73 386.75,278.62 387.02,278.52 387.29,278.42 387.57,278.31 387.84,278.21 388.12,278.11 388.39,278 388.67,277.9 388.94,277.8 389.21,277.7 389.49,277.59 389.76,277.49 390.04,277.39 390.31,277.29 390.58,277.18 390.86,277.08 391.13,276.97 391.41,276.86 391.68,276.76 391.95,276.65 392.23,276.54 392.5,276.43 392.78,276.32 393.05,276.22 393.33,276.11 393.6,276 393.87,275.89 394.15,275.78 394.42,275.68 394.7,275.57 394.97,275.46 395.24,275.36 395.52,275.26 395.79,275.15 396.07,275.05 396.34,274.95 396.61,274.85 396.89,274.76 397.16,274.66 397.44,274.57 397.71,274.48 397.99,274.39 398.26,274.3 398.53,274.21 398.81,274.13 399.08,274.05 399.36,273.97 399.63,273.9 399.9,273.82 400.18,273.75 400.45,273.68 400.73,273.61 401,273.55 401.27,273.48 401.55,273.41 401.82,273.34 402.1,273.28 402.37,273.21 402.64,273.15 402.92,273.08 403.19,273.02 403.47,272.96 403.74,272.89 404.02,272.83 404.29,272.77 404.56,272.71 404.84,272.66 405.11,272.6 405.39,272.54 405.66,272.49 405.93,272.43 406.21,272.38 406.48,272.33 406.76,272.28 407.03,272.23 407.3,272.18 407.58,272.14 407.85,272.09 408.13,272.05 408.4,272 408.68,271.96 408.95,271.92 409.22,271.88 409.5,271.85 409.77,271.81 410.05,271.78 410.32,271.75 410.59,271.72 410.87,271.69 411.14,271.66 411.42,271.64 411.69,271.61 411.96,271.59 412.24,271.57 412.51,271.55 412.79,271.54 413.06,271.53 413.33,271.51 413.61,271.5 413.88,271.5 414.16,271.49 414.43,271.49 414.71,271.49 414.98,271.49 415.25,271.49 415.53,271.5 415.8,271.5 416.08,271.51 416.35,271.52 416.62,271.53 416.9,271.55 417.17,271.56 417.45,271.58 417.72,271.6 417.99,271.62 418.27,271.64 418.54,271.66 418.82,271.69 419.09,271.72 419.37,271.74 419.64,271.77 419.91,271.8 420.19,271.83 420.46,271.86 420.74,271.9 421.01,271.93 421.28,271.97 421.56,272 421.83,272.04 422.11,272.08 422.38,272.12 422.65,272.16 422.93,272.2 423.2,272.24 423.48,272.29 423.75,272.33 424.02,272.37 424.3,272.42 424.57,272.46 424.85,272.51 425.12,272.55 425.4,272.6 425.67,272.65 425.94,272.69 426.22,272.74 426.49,272.79 426.77,272.84 427.04,272.88 427.31,272.93 427.59,272.98 427.86,273.03 428.14,273.08 428.41,273.13 428.68,273.17 428.96,273.23 429.23,273.28 429.51,273.34 429.78,273.4 430.06,273.46 430.33,273.52 430.6,273.59 430.88,273.66 431.15,273.74 431.43,273.81 431.7,273.89 431.97,273.97 432.25,274.06 432.52,274.14 432.8,274.23 433.07,274.32 433.34,274.41 433.62,274.51 433.89,274.6 434.17,274.7 434.44,274.8 434.72,274.91 434.99,275.01 435.26,275.12 435.54,275.23 435.81,275.34 436.09,275.45 436.36,275.57 436.63,275.68 436.91,275.8 437.18,275.92 437.46,276.04 437.73,276.16 438,276.29 438.28,276.41 438.55,276.54 438.83,276.67 439.1,276.8 439.37,276.93 439.65,277.06 439.92,277.19 440.2,277.33 440.47,277.46 440.75,277.6 441.02,277.73 441.29,277.87 441.57,278.01 441.84,278.15 442.12,278.29 442.39,278.43 442.66,278.57 442.94,278.71 443.21,278.86 443.49,279 443.76,279.14 444.03,279.29 444.31,279.45 444.58,279.61 444.86,279.78 445.13,279.95 445.41,280.14 445.68,280.33 445.95,280.52 446.23,280.72 446.5,280.92 446.78,281.13 447.05,281.35 447.32,281.57 447.6,281.79 447.87,282.01 448.15,282.24 448.42,282.47 448.69,282.7 448.97,282.94 449.24,283.18 449.52,283.41 449.79,283.65 450.06,283.89 450.34,284.13 450.61,284.37 450.89,284.61 451.16,284.85 451.44,285.08 451.71,285.32 451.98,285.56 452.26,285.8 452.53,286.05 452.81,286.3 453.08,286.55 453.35,286.8 453.63,287.05 453.9,287.31 454.18,287.57 454.45,287.83 454.72,288.09 455,288.35 455.27,288.61 455.55,288.88 455.82,289.14 456.1,289.41 456.37,289.68 456.64,289.94 456.92,290.21 457.19,290.47 457.47,290.74 457.74,291.01 458.01,291.27 458.29,291.54 458.56,291.8 458.84,292.06 459.11,292.32 459.38,292.58 459.66,292.84 459.93,293.1 460.21,293.36 460.48,293.62 460.76,293.88 461.03,294.14 461.3,294.4 461.58,294.65 461.85,294.91 462.13,295.17 462.4,295.43 462.67,295.69 462.95,295.95 463.22,296.21 463.5,296.47 463.77,296.73 464.04,296.99 464.32,297.25 464.59,297.51 464.87,297.77 465.14,298.03 465.41,298.3 465.69,298.56 465.96,298.82 466.24,299.09 466.51,299.35 466.79,299.62 467.06,299.88 467.33,300.14 467.61,300.41 467.88,300.67 468.16,300.93 468.43,301.19 468.7,301.45 468.98,301.72 469.25,301.98 469.53,302.24 469.8,302.51 470.07,302.77 470.35,303.04 470.62,303.3 470.9,303.57 471.17,303.84 471.45,304.11 471.72,304.38 471.99,304.65 472.27,304.92 472.54,305.2 472.82,305.47 473.09,305.75 473.36,306.03 473.64,306.31 473.91,306.6 474.19,306.88 474.46,307.17 474.73,307.46 475.01,307.76 475.28,308.05 475.56,308.35 475.83,308.66 476.1,308.97 476.38,309.28 476.65,309.59 476.93,309.91 477.2,310.23 477.48,310.55 477.75,310.88 478.02,311.21 478.3,311.54 478.57,311.87 478.85,312.2 479.12,312.54 479.39,312.88 479.67,313.22 479.94,313.56 480.22,313.9 480.49,314.25 480.76,314.59 481.04,314.94 481.31,315.28 481.59,315.63 481.86,315.98 482.14,316.33 482.41,316.68 482.68,317.03 482.96,317.38 483.23,317.74 483.51,318.1 483.78,318.46 484.05,318.83 484.33,319.2 484.6,319.57 484.88,319.95 485.15,320.33 485.42,320.72 485.7,321.11 485.97,321.5 486.25,321.9 486.52,322.31 486.8,322.72 487.07,323.13 487.34,323.56 487.62,324 487.89,324.45 488.17,324.92 488.44,325.41 488.71,325.9 488.99,326.41 489.26,326.93 489.54,327.46 489.81,327.99 490.08,328.53 490.36,329.08 490.63,329.64 490.91,330.2 491.18,330.79 491.45,331.42 491.73,332.07 492,332.75 492.28,333.44 492.55,334.16 492.83,334.89 493.1,335.63 493.37,336.39 493.65,337.15 493.92,337.91 494.2,338.74 494.47,339.7 494.74,340.81 495.02,342.13 495.29,343.69 495.57,345.84 495.84,348.96 496.11,352.65 496.39,356.47 496.66,360.09 496.94,364.17 497.21,368.71 497.49,373.49 497.76,378.26 498.03,382.82 498.31,386.92 498.58,390.33 498.86,392.84 499.13,394.22 499.4,394.58 499.68,394.86 499.95,395.12 500.23,395.37 500.5,395.6 500.77,395.82 501.05,396.03 501.32,396.23 501.6,396.41 501.87,396.58 502.14,396.75 502.42,396.9 502.69,397.04 502.97,397.17 503.24,397.29 503.52,397.41 503.79,397.52 504.06,397.62 504.34,397.71 504.61,397.8 504.89,397.88 505.16,397.96 505.43,398.03 505.71,398.1 505.98,398.17 506.26,398.23 506.53,398.29 506.8,398.35 507.08,398.41 507.35,398.47 507.63,398.53 507.9,398.59 508.18,398.66 508.45,398.72 508.72,398.79 509,398.85 509.27,398.92 509.55,398.99 509.82,399.06 510.09,399.13 510.37,399.2 510.64,399.27 510.92,399.34 511.19,399.41 511.46,399.49 511.74,399.56 512.01,399.63 512.29,399.7 512.56,399.77 512.84,399.84 513.11,399.91 513.38,399.98 513.66,400.05 513.93,400.12 514.21,400.19 514.48,400.25 514.75,400.32 515.03,400.38 515.3,400.44 515.58,400.5 515.85,400.56 516.12,400.62 516.4,400.67 516.67,400.73 516.95,400.78 517.22,400.83 517.49,400.87 517.77,400.92 518.04,400.96 518.32,401 518.59,401.03 518.87,401.07 519.14,401.1 519.41,401.13 519.69,401.15 519.96,401.17 520.24,401.19 520.51,401.2" fill="none" stroke="#d62728" stroke-width="1.2" stroke-linejoin="round" stroke-linecap="round"/>
<polyline points="301.5,313.29 301.77,313.15 302.05,313.01 302.32,312.87 302.6,312.73 302.87,312.6 303.14,312.46 303.42,312.32 303.69,312.19 303.97,312.05 304.24,311.92 304.52,311.78 304.79,311.65 305.06,311.51 305.34,311.38 305.61,311.24 305.89,311.11 306.16,310.98 306.43,310.85 306.71,310.71 306.98,310.58 307.26,310.45 307.53,310.32 307.8,310.19 308.08,310.06 308.35,309.93 308.63,309.81 308.9,309.68 309.17,309.55 309.45,309.43 309.72,309.3 310,309.18 310.27,309.05 310.55,308.93 310.82,308.81 311.09,308.68 311.37,308.56 311.64,308.44 311.92,308.32 312.19,308.2 312.46,308.08 312.74,307.97 313.01,307.85 313.29,307.73 313.56,307.62 313.83,307.5 314.11,307.39 314.38,307.27 314.66,307.16 314.93,307.05 315.21,306.93 315.48,306.82 315.75,306.71 316.03,306.6 316.3,306.48 316.58,306.37 316.85,306.26 317.12,306.15 317.4,306.04 317.67,305.93 317.95,305.82 318.22,305.71 318.49,305.61 318.77,305.5 319.04,305.39 319.32,305.28 319.59,305.17 319.87,305.07 320.14,304.96 320.41,304.85 320.69,304.75 320.96,304.64 321.24,304.53 321.51,304.43 321.78,304.32 322.06,304.22 322.33,304.11 322.61,304.01 322.88,303.91 323.15,303.8 323.43,303.7 323.7,303.6 323.98,303.49 324.25,303.39 324.52,303.29 324.8,303.19 325.07,303.08 325.35,302.98 325.62,302.88 325.9,302.78 326.17,302.68 326.44,302.58 326.72,302.48 326.99,302.37 327.27,302.27 327.54,302.17 327.81,302.07 328.09,301.97 328.36,301.87 328.64,301.77 328.91,301.68 329.18,301.58 329.46,301.48 329.73,301.38 330.01,301.28 330.28,301.18 330.56,301.08 330.83,300.99 331.1,300.89 331.38,300.8 331.65,300.7 331.93,300.61 332.2,300.51 332.47,300.42 332.75,300.33 333.02,300.23 333.3,300.14 333.57,300.05 333.84,299.96 334.12,299.87 334.39,299.78 334.67,299.69 334.94,299.6 335.21,299.51 335.49,299.42 335.76,299.33 336.04,299.25 336.31,299.16 336.59,299.07 336.86,298.98 337.13,298.89 337.41,298.81 337.68,298.72 337.96,298.63 338.23,298.54 338.5,298.45 338.78,298.37 339.05,298.28 339.33,298.19 339.6,298.1 339.87,298.02 340.15,297.93 340.42,297.84 340.7,297.75 340.97,297.66 341.25,297.57 341.52,297.48 341.79,297.39 342.07,297.3 342.34,297.21 342.62,297.12 342.89,297.03 343.16,296.94 343.44,296.85 343.71,296.75 343.99,296.66 344.26,296.57 344.53,296.47 344.81,296.38 345.08,296.28 345.36,296.18 345.63,296.09 345.91,295.99 346.18,295.89 346.45,295.79 346.73,295.69 347,295.59 347.28,295.49 347.55,295.39 347.82,295.28 348.1,295.18 348.37,295.08 348.65,294.97 348.92,294.87 349.19,294.76 349.47,294.65 349.74,294.55 350.02,294.44 350.29,294.33 350.56,294.22 350.84,294.11 351.11,294 351.39,293.89 351.66,293.78 351.94,293.67 352.21,293.56 352.48,293.45 352.76,293.34 353.03,293.22 353.31,293.11 353.58,293 353.85,292.88 354.13,292.77 354.4,292.65 354.68,292.54 354.95,292.42 355.22,292.3 355.5,292.19 355.77,292.07 356.05,291.95 356.32,291.83 356.6,291.72 356.87,291.6 357.14,291.48 357.42,291.36 357.69,291.24 357.97,291.12 358.24,290.99 358.51,290.87 358.79,290.75 359.06,290.63 359.34,290.51 359.61,290.38 359.88,290.26 360.16,290.14 360.43,290.01 360.71,289.89 360.98,289.76 361.25,289.64 361.53,289.51 361.8,289.39 362.08,289.26 362.35,289.13 362.63,289.01 362.9,288.88 363.17,288.75 363.45,288.62 363.72,288.49 364,288.37 364.27,288.24 364.54,288.11 364.82,287.98 365.09,287.85 365.37,287.72 365.64,287.59 365.91,287.45 366.19,287.32 366.46,287.19 366.74,287.05 367.01,286.92 367.29,286.78 367.56,286.65 367.83,286.51 368.11,286.37 368.38,286.23 368.66,286.09 368.93,285.96 369.2,285.82 369.48,285.68 369.75,285.53 370.03,285.39 370.3,285.25 370.57,285.11 370.85,284.97 371.12,284.82 371.4,284.68 371.67,284.53 371.95,284.39 372.22,284.25 372.49,284.1 372.77,283.95 373.04,283.81 373.32,283.66 373.59,283.52 373.86,283.37 374.14,283.22 374.41,283.08 374.69,282.93 374.96,282.78 375.23,282.63 375.51,282.49 375.78,282.34 376.06,282.19 376.33,282.04 376.6,281.89 376.88,281.74 377.15,281.6 377.43,281.45 377.7,281.3 377.98,281.15 378.25,281 378.52,280.85 378.8,280.71 379.07,280.56 379.35,280.41 379.62,280.26 379.89,280.11 380.17,279.96 380.44,279.82 380.72,279.67 380.99,279.52 381.26,279.37 381.54,279.23 381.81,279.08 382.09,278.93 382.36,278.79 382.64,278.64 382.91,278.49 383.18,278.35 383.46,278.2 383.73,278.05 384.01,277.9 384.28,277.75 384.55,277.59 384.83,277.44 385.1,277.29 385.38,277.14 385.65,276.98 385.92,276.83 386.2,276.68 386.47,276.53 386.75,276.38 387.02,276.22 387.29,276.07 387.57,275.92 387.84,275.78 388.12,275.63 388.39,275.48 388.67,275.34 388.94,275.19 389.21,275.05 389.49,274.91 389.76,274.77 390.04,274.63 390.31,274.49 390.58,274.36 390.86,274.22 391.13,274.09 391.41,273.95 391.68,273.82 391.95,273.68 392.23,273.55 392.5,273.42 392.78,273.29 393.05,273.15 393.33,273.02 393.6,272.89 393.87,272.76 394.15,272.63 394.42,272.5 394.7,272.38 394.97,272.25 395.24,272.12 395.52,272 395.79,271.87 396.07,271.75 396.34,271.62 396.61,271.5 396.89,271.38 397.16,271.26 397.44,271.14 397.71,271.02 397.99,270.9 398.26,270.78 398.53,270.67 398.81,270.55 399.08,270.44 399.36,270.32 399.63,270.21 399.9,270.1 400.18,269.99 400.45,269.88 400.73,269.77 401,269.65 401.27,269.54 401.55,269.43 401.82,269.32 402.1,269.2 402.37,269.09 402.64,268.98 402.92,268.87 403.19,268.76 403.47,268.65 403.74,268.54 404.02,268.43 404.29,268.32 404.56,268.22 404.84,268.11 405.11,268.01 405.39,267.9 405.66,267.8 405.93,267.7 406.21,267.6 406.48,267.51 406.76,267.41 407.03,267.32 407.3,267.23 407.58,267.14 407.85,267.05 408.13,266.97 408.4,266.89 408.68,266.81 408.95,266.73 409.22,266.66 409.5,266.59 409.77,266.52 410.05,266.46 410.32,266.39 410.59,266.33 410.87,266.27 411.14,266.21 411.42,266.14 411.69,266.08 411.96,266.02 412.24,265.96 412.51,265.91 412.79,265.85 413.06,265.79 413.33,265.73 413.61,265.68 413.88,265.63 414.16,265.57 414.43,265.52 414.71,265.47 414.98,265.42 415.25,265.37 415.53,265.32 415.8,265.27 416.08,265.23 416.35,265.18 416.62,265.14 416.9,265.1 417.17,265.06 417.45,265.02 417.72,264.98 417.99,264.94 418.27,264.9 418.54,264.87 418.82,264.83 419.09,264.8 419.37,264.77 419.64,264.74 419.91,264.72 420.19,264.69 420.46,264.66 420.74,264.64 421.01,264.62 421.28,264.59 421.56,264.57 421.83,264.55 422.11,264.52 422.38,264.5 422.65,264.48 422.93,264.46 423.2,264.44 423.48,264.43 423.75,264.41 424.02,264.39 424.3,264.37 424.57,264.36 424.85,264.34 425.12,264.33 425.4,264.32 425.67,264.3 425.94,264.29 426.22,264.28 426.49,264.27 426.77,264.26 427.04,264.25 427.31,264.24 427.59,264.24 427.86,264.23 428.14,264.22 428.41,264.22 428.68,264.22 428.96,264.21 429.23,264.21 429.51,264.21 429.78,264.21 430.06,264.21 430.33,264.22 430.6,264.22 430.88,264.23 431.15,264.23 431.43,264.24 431.7,264.25 431.97,264.27 432.25,264.28 432.52,264.29 432.8,264.31 433.07,264.33 433.34,264.35 433.62,264.37 433.89,264.39 434.17,264.42 434.44,264.44 434.72,264.47 434.99,264.5 435.26,264.53 435.54,264.56 435.81,264.59 436.09,264.62 436.36,264.66 436.63,264.69 436.91,264.73 437.18,264.76 437.46,264.8 437.73,264.84 438,264.88 438.28,264.93 438.55,264.97 438.83,265.01 439.1,265.06 439.37,265.1 439.65,265.15 439.92,265.2 440.2,265.24 440.47,265.29 440.75,265.34 441.02,265.39 441.29,265.45 441.57,265.5 441.84,265.55 442.12,265.6 442.39,265.66 442.66,265.71 442.94,265.77 443.21,265.83 443.49,265.88 443.76,265.94 444.03,266 444.31,266.06 444.58,266.12 444.86,266.18 445.13,266.24 445.41,266.3 445.68,266.36 445.95,266.42 446.23,266.48 446.5,266.54 446.78,266.6 447.05,266.67 447.32,266.73 447.6,266.79 447.87,266.85 448.15,266.92 448.42,266.98 448.69,267.05 448.97,267.12 449.24,267.2 449.52,267.28 449.79,267.36 450.06,267.46 450.34,267.55 450.61,267.65 450.89,267.75 451.16,267.86 451.44,267.97 451.71,268.09 451.98,268.2 452.26,268.33 452.53,268.45 452.81,268.58 453.08,268.71 453.35,268.84 453.63,268.98 453.9,269.12 454.18,269.26 454.45,269.4 454.72,269.54 455,269.69 455.27,269.84 455.55,269.99 455.82,270.14 456.1,270.29 456.37,270.44 456.64,270.6 456.92,270.75 457.19,270.91 457.47,271.06 457.74,271.22 458.01,271.37 458.29,271.53 458.56,271.69 458.84,271.84 459.11,272 459.38,272.15 459.66,272.3 459.93,272.46 460.21,272.61 460.48,272.76 460.76,272.92 461.03,273.08 461.3,273.24 461.58,273.4 461.85,273.57 462.13,273.74 462.4,273.9 462.67,274.07 462.95,274.25 463.22,274.42 463.5,274.59 463.77,274.77 464.04,274.95 464.32,275.13 464.59,275.31 464.87,275.49 465.14,275.67 465.41,275.86 465.69,276.04 465.96,276.23 466.24,276.42 466.51,276.6 466.79,276.79 467.06,276.98 467.33,277.17 467.61,277.36 467.88,277.56 468.16,277.75 468.43,277.94 468.7,278.13 468.98,278.33 469.25,278.52 469.53,278.71 469.8,278.91 470.07,279.1 470.35,279.3 470.62,279.5 470.9,279.7 471.17,279.9 471.45,280.11 471.72,280.32 471.99,280.52 472.27,280.74 472.54,280.95 472.82,281.16 473.09,281.38 473.36,281.59 473.64,281.81 473.91,282.03 474.19,282.24 474.46,282.46 474.73,282.68 475.01,282.9 475.28,283.11 475.56,283.33 475.83,283.55 476.1,283.76 476.38,283.98 476.65,284.2 476.93,284.41 477.2,284.63 477.48,284.85 477.75,285.07 478.02,285.29 478.3,285.51 478.57,285.73 478.85,285.95 479.12,286.18 479.39,286.4 479.67,286.63 479.94,286.86 480.22,287.09 480.49,287.32 480.76,287.56 481.04,287.79 481.31,288.03 481.59,288.27 481.86,288.52 482.14,288.76 482.41,289.01 482.68,289.27 482.96,289.52 483.23,289.78 483.51,290.05 483.78,290.32 484.05,290.59 484.33,290.87 484.6,291.16 484.88,291.44 485.15,291.74 485.42,292.03 485.7,292.33 485.97,292.63 486.25,292.94 486.52,293.25 486.8,293.56 487.07,293.88 487.34,294.2 487.62,294.52 487.89,294.84 488.17,295.16 488.44,295.49 488.71,295.82 488.99,296.15 489.26,296.48 489.54,296.81 489.81,297.14 490.08,297.47 490.36,297.81 490.63,298.14 490.91,298.48 491.18,298.83 491.45,299.17 491.73,299.52 492,299.87 492.28,300.23 492.55,300.59 492.83,300.95 493.1,301.31 493.37,301.67 493.65,302.04 493.92,302.41 494.2,302.78 494.47,303.16 494.74,303.53 495.02,303.91 495.29,304.29 495.57,304.67 495.84,305.06 496.11,305.44 496.39,305.83 496.66,306.22 496.94,306.61 497.21,307 497.49,307.39 497.76,307.78 498.03,308.18 498.31,308.57 498.58,308.97 498.86,309.38 499.13,309.78 499.4,310.19 499.68,310.6 499.95,311.01 500.23,311.43 500.5,311.84 500.77,312.26 501.05,312.68 501.32,313.1 501.6,313.53 501.87,313.96 502.14,314.38 502.42,314.81 502.69,315.25 502.97,315.68 503.24,316.11 503.52,316.55 503.79,316.99 504.06,317.43 504.34,317.87 504.61,318.31 504.89,318.75 505.16,319.2 505.43,319.65 505.71,320.1 505.98,320.56 506.26,321.01 506.53,321.47 506.8,321.94 507.08,322.4 507.35,322.87 507.63,323.34 507.9,323.81 508.18,324.29 508.45,324.76 508.72,325.24 509,325.71 509.27,326.19 509.55,326.67 509.82,327.15 510.09,327.62 510.37,328.1 510.64,328.58 510.92,329.06 511.19,329.53 511.46,330.01 511.74,330.48 512.01,330.95 512.29,331.42 512.56,331.9 512.84,332.37 513.11,332.84 513.38,333.31 513.66,333.78 513.93,334.26 514.21,334.73 514.48,335.2 514.75,335.67 515.03,336.15 515.3,336.62 515.58,337.09 515.85,337.57 516.12,338.04 516.4,338.51 516.67,338.99 516.95,339.46 517.22,339.93 517.49,340.41 517.77,340.88 518.04,341.35 518.32,341.83 518.59,342.3 518.87,342.78 519.14,343.25 519.41,343.73 519.69,344.2 519.96,344.68 520.24,345.15 520.51,345.62" fill="none" stroke="#9467bd" stroke-width="1.05" stroke-linejoin="round" stroke-linecap="round"/>
</g>
<rect x="301.5" y="240.0" width="218" height="162.5" fill="none" stroke="#555" stroke-width="1"/>
<line x1="299.5" y1="402.5" x2="301.5" y2="402.5" stroke="#555" stroke-width="1"/>
<text x="296.5" y="406.6" font-size="11.4" text-anchor="end" fill="#0d0d0d" stroke="#0d0d0d" stroke-width="0.32">0.0</text>
<line x1="299.5" y1="370" x2="301.5" y2="370" stroke="#555" stroke-width="1"/>
<text x="296.5" y="374.1" font-size="11.4" text-anchor="end" fill="#0d0d0d" stroke="#0d0d0d" stroke-width="0.32">0.2</text>
<line x1="299.5" y1="337.5" x2="301.5" y2="337.5" stroke="#555" stroke-width="1"/>
<text x="296.5" y="341.6" font-size="11.4" text-anchor="end" fill="#0d0d0d" stroke="#0d0d0d" stroke-width="0.32">0.4</text>
<line x1="299.5" y1="305" x2="301.5" y2="305" stroke="#555" stroke-width="1"/>
<text x="296.5" y="309.1" font-size="11.4" text-anchor="end" fill="#0d0d0d" stroke="#0d0d0d" stroke-width="0.32">0.6</text>
<line x1="299.5" y1="272.5" x2="301.5" y2="272.5" stroke="#555" stroke-width="1"/>
<text x="296.5" y="276.6" font-size="11.4" text-anchor="end" fill="#0d0d0d" stroke="#0d0d0d" stroke-width="0.32">0.8</text>
<line x1="299.5" y1="240" x2="301.5" y2="240" stroke="#555" stroke-width="1"/>
<text x="296.5" y="244.1" font-size="11.4" text-anchor="end" fill="#0d0d0d" stroke="#0d0d0d" stroke-width="0.32">1.0</text>
<line x1="337.8" y1="402.5" x2="337.8" y2="404.5" stroke="#555" stroke-width="1"/>
<text x="337.8" y="415.8" font-size="11.4" text-anchor="middle" fill="#0d0d0d" stroke="#0d0d0d" stroke-width="0.32">1540</text>
<line x1="386.2" y1="402.5" x2="386.2" y2="404.5" stroke="#555" stroke-width="1"/>
<text x="386.2" y="415.8" font-size="11.4" text-anchor="middle" fill="#0d0d0d" stroke="#0d0d0d" stroke-width="0.32">1560</text>
<line x1="434.6" y1="402.5" x2="434.6" y2="404.5" stroke="#555" stroke-width="1"/>
<text x="434.6" y="415.8" font-size="11.4" text-anchor="middle" fill="#0d0d0d" stroke="#0d0d0d" stroke-width="0.32">1580</text>
<line x1="483" y1="402.5" x2="483" y2="404.5" stroke="#555" stroke-width="1"/>
<text x="483" y="415.8" font-size="11.4" text-anchor="middle" fill="#0d0d0d" stroke="#0d0d0d" stroke-width="0.32">1600</text>
<text x="414.8" y="431.5" font-size="12.4" text-anchor="middle" textLength="98.5" lengthAdjust="spacingAndGlyphs" fill="#0d0d0d" stroke="#0d0d0d" stroke-width="0.35">Wavelength (nm)</text>
<text transform="translate(275.3,321.6) rotate(-90)" x="0" y="0" font-size="12.4" text-anchor="middle" textLength="105" lengthAdjust="spacingAndGlyphs" fill="#0d0d0d" stroke="#0d0d0d" stroke-width="0.35">Responsivity (A/W)</text>
<rect x="307.2" y="331.2" width="130.7" height="65.2" rx="2" fill="#fff" fill-opacity="0.85" stroke="#d8d8d8" stroke-width="0.8"/>
<line x1="309.8" y1="338.4" x2="328.4" y2="338.4" stroke="#667a94" stroke-width="1.2"/>
<text x="335.2" y="341.6" font-size="9.2" textLength="99.5" lengthAdjust="spacingAndGlyphs" fill="#0d0d0d" stroke="#0d0d0d" stroke-width="0.13">On-chip power= -4.9 dBm</text>
<line x1="309.8" y1="350.9" x2="328.4" y2="350.9" stroke="#e8b08a" stroke-width="1.7"/>
<text x="335.2" y="354.1" font-size="9.2" textLength="99.5" lengthAdjust="spacingAndGlyphs" fill="#0d0d0d" stroke="#0d0d0d" stroke-width="0.13">On-chip power= -2.9 dBm</text>
<line x1="309.8" y1="363.4" x2="328.4" y2="363.4" stroke="#607a66" stroke-width="1.2"/>
<text x="335.2" y="366.6" font-size="9.2" textLength="99.5" lengthAdjust="spacingAndGlyphs" fill="#0d0d0d" stroke="#0d0d0d" stroke-width="0.13">On-chip power= -0.9 dBm</text>
<line x1="309.8" y1="375.9" x2="328.4" y2="375.9" stroke="#b88580" stroke-width="1.8"/>
<text x="335.2" y="379.1" font-size="9.2" textLength="96.5" lengthAdjust="spacingAndGlyphs" fill="#0d0d0d" stroke="#0d0d0d" stroke-width="0.13">On-chip power= 1.1 dBm</text>
<line x1="309.8" y1="388.4" x2="328.4" y2="388.4" stroke="#74748a" stroke-width="1.2"/>
<text x="335.2" y="391.6" font-size="9.2" textLength="96.5" lengthAdjust="spacingAndGlyphs" fill="#0d0d0d" stroke="#0d0d0d" stroke-width="0.13">On-chip power= 3.1 dBm</text>
<rect x="32.9" y="462.2" width="213.6" height="175.1" fill="none" stroke="#9a9a9a" stroke-width="1"/>
<line x1="32.9" y1="637.3" x2="34.9" y2="637.3" stroke="#9a9a9a" stroke-width="1"/>
<line x1="244.5" y1="637.3" x2="246.5" y2="637.3" stroke="#9a9a9a" stroke-width="1"/>
<text x="29.5" y="641" font-size="10.3" text-anchor="end" fill="#262626" stroke="#262626" stroke-width="0.12">0</text>
<line x1="32.9" y1="602.28" x2="34.9" y2="602.28" stroke="#9a9a9a" stroke-width="1"/>
<line x1="244.5" y1="602.28" x2="246.5" y2="602.28" stroke="#9a9a9a" stroke-width="1"/>
<text x="29.5" y="605.98" font-size="10.3" text-anchor="end" fill="#262626" stroke="#262626" stroke-width="0.12">0.2</text>
<line x1="32.9" y1="567.26" x2="34.9" y2="567.26" stroke="#9a9a9a" stroke-width="1"/>
<line x1="244.5" y1="567.26" x2="246.5" y2="567.26" stroke="#9a9a9a" stroke-width="1"/>
<text x="29.5" y="570.96" font-size="10.3" text-anchor="end" fill="#262626" stroke="#262626" stroke-width="0.12">0.4</text>
<line x1="32.9" y1="532.24" x2="34.9" y2="532.24" stroke="#9a9a9a" stroke-width="1"/>
<line x1="244.5" y1="532.24" x2="246.5" y2="532.24" stroke="#9a9a9a" stroke-width="1"/>
<text x="29.5" y="535.94" font-size="10.3" text-anchor="end" fill="#262626" stroke="#262626" stroke-width="0.12">0.6</text>
<line x1="32.9" y1="497.22" x2="34.9" y2="497.22" stroke="#9a9a9a" stroke-width="1"/>
<line x1="244.5" y1="497.22" x2="246.5" y2="497.22" stroke="#9a9a9a" stroke-width="1"/>
<text x="29.5" y="500.92" font-size="10.3" text-anchor="end" fill="#262626" stroke="#262626" stroke-width="0.12">0.8</text>
<line x1="32.9" y1="462.2" x2="34.9" y2="462.2" stroke="#9a9a9a" stroke-width="1"/>
<line x1="244.5" y1="462.2" x2="246.5" y2="462.2" stroke="#9a9a9a" stroke-width="1"/>
<text x="29.5" y="465.9" font-size="10.3" text-anchor="end" fill="#262626" stroke="#262626" stroke-width="0.12">1</text>
<line x1="63.41" y1="637.3" x2="63.41" y2="635.3" stroke="#9a9a9a" stroke-width="1"/>
<line x1="63.41" y1="462.2" x2="63.41" y2="464.2" stroke="#9a9a9a" stroke-width="1"/>
<text x="63.41" y="650.8" font-size="10.3" text-anchor="middle" fill="#262626" stroke="#262626" stroke-width="0.12">0.5</text>
<line x1="114.27" y1="637.3" x2="114.27" y2="635.3" stroke="#9a9a9a" stroke-width="1"/>
<line x1="114.27" y1="462.2" x2="114.27" y2="464.2" stroke="#9a9a9a" stroke-width="1"/>
<text x="114.27" y="650.8" font-size="10.3" text-anchor="middle" fill="#262626" stroke="#262626" stroke-width="0.12">1</text>
<line x1="165.13" y1="637.3" x2="165.13" y2="635.3" stroke="#9a9a9a" stroke-width="1"/>
<line x1="165.13" y1="462.2" x2="165.13" y2="464.2" stroke="#9a9a9a" stroke-width="1"/>
<text x="165.13" y="650.8" font-size="10.3" text-anchor="middle" fill="#262626" stroke="#262626" stroke-width="0.12">1.5</text>
<line x1="215.99" y1="637.3" x2="215.99" y2="635.3" stroke="#9a9a9a" stroke-width="1"/>
<line x1="215.99" y1="462.2" x2="215.99" y2="464.2" stroke="#9a9a9a" stroke-width="1"/>
<text x="215.99" y="650.8" font-size="10.3" text-anchor="middle" fill="#262626" stroke="#262626" stroke-width="0.12">2</text>
<text x="137.3" y="664.8" font-size="11.3" text-anchor="middle" textLength="47.5" lengthAdjust="spacingAndGlyphs" fill="#262626" stroke="#262626" stroke-width="0.14">Pin (mW)</text>
<text transform="translate(10.4,550.9) rotate(-90)" x="0" y="0" font-size="11.3" text-anchor="middle" textLength="103.5" lengthAdjust="spacingAndGlyphs" fill="#262626" stroke="#262626" stroke-width="0.14">Photocurrent (mA)</text>
<line x1="139.8" y1="606.48" x2="141.84" y2="584.95" stroke="#7a8599" stroke-width="1" stroke-dasharray="2.6 2"/>
<circle cx="34.53" cy="634.85" r="1.7" fill="#e9bd35" stroke="#6a4a0c" stroke-width="1.0"/>
<circle cx="36.98" cy="634.7" r="1.7" fill="#e9bd35" stroke="#6a4a0c" stroke-width="1.0"/>
<circle cx="39.44" cy="634.52" r="1.7" fill="#e9bd35" stroke="#6a4a0c" stroke-width="1.0"/>
<circle cx="41.86" cy="634.32" r="1.7" fill="#e9bd35" stroke="#6a4a0c" stroke-width="1.0"/>
<circle cx="44.29" cy="634.1" r="1.7" fill="#e9bd35" stroke="#6a4a0c" stroke-width="1.0"/>
<circle cx="46.74" cy="633.85" r="1.7" fill="#e9bd35" stroke="#6a4a0c" stroke-width="1.0"/>
<circle cx="49.17" cy="633.58" r="1.7" fill="#e9bd35" stroke="#6a4a0c" stroke-width="1.0"/>
<circle cx="51.59" cy="633.3" r="1.7" fill="#e9bd35" stroke="#6a4a0c" stroke-width="1.0"/>
<circle cx="54.01" cy="633.01" r="1.7" fill="#e9bd35" stroke="#6a4a0c" stroke-width="1.0"/>
<circle cx="56.47" cy="632.7" r="1.7" fill="#e9bd35" stroke="#6a4a0c" stroke-width="1.0"/>
<circle cx="58.89" cy="632.38" r="1.7" fill="#e9bd35" stroke="#6a4a0c" stroke-width="1.0"/>
<circle cx="61.31" cy="632.05" r="1.7" fill="#e9bd35" stroke="#6a4a0c" stroke-width="1.0"/>
<circle cx="63.7" cy="631.67" r="1.7" fill="#e9bd35" stroke="#6a4a0c" stroke-width="1.0"/>
<circle cx="66.12" cy="631.23" r="1.7" fill="#e9bd35" stroke="#6a4a0c" stroke-width="1.0"/>
<circle cx="68.54" cy="630.77" r="1.7" fill="#e9bd35" stroke="#6a4a0c" stroke-width="1.0"/>
<circle cx="70.93" cy="630.3" r="1.7" fill="#e9bd35" stroke="#6a4a0c" stroke-width="1.0"/>
<circle cx="73.32" cy="629.83" r="1.7" fill="#e9bd35" stroke="#6a4a0c" stroke-width="1.0"/>
<circle cx="75.74" cy="629.37" r="1.7" fill="#e9bd35" stroke="#6a4a0c" stroke-width="1.0"/>
<circle cx="78.13" cy="628.94" r="1.7" fill="#e9bd35" stroke="#6a4a0c" stroke-width="1.0"/>
<circle cx="80.55" cy="628.49" r="1.7" fill="#e9bd35" stroke="#6a4a0c" stroke-width="1.0"/>
<circle cx="82.93" cy="628.06" r="1.7" fill="#e9bd35" stroke="#6a4a0c" stroke-width="1.0"/>
<circle cx="85.36" cy="627.61" r="1.7" fill="#e9bd35" stroke="#6a4a0c" stroke-width="1.0"/>
<circle cx="87.74" cy="627.18" r="1.7" fill="#e9bd35" stroke="#6a4a0c" stroke-width="1.0"/>
<circle cx="90.17" cy="626.74" r="1.7" fill="#e9bd35" stroke="#6a4a0c" stroke-width="1.0"/>
<circle cx="92.59" cy="626.31" r="1.7" fill="#e9bd35" stroke="#6a4a0c" stroke-width="1.0"/>
<circle cx="94.98" cy="625.9" r="1.7" fill="#e9bd35" stroke="#6a4a0c" stroke-width="1.0"/>
<circle cx="97.4" cy="625.5" r="1.7" fill="#e9bd35" stroke="#6a4a0c" stroke-width="1.0"/>
<circle cx="99.82" cy="625.11" r="1.7" fill="#e9bd35" stroke="#6a4a0c" stroke-width="1.0"/>
<circle cx="102.24" cy="624.72" r="1.7" fill="#e9bd35" stroke="#6a4a0c" stroke-width="1.0"/>
<circle cx="104.63" cy="624.31" r="1.7" fill="#e9bd35" stroke="#6a4a0c" stroke-width="1.0"/>
<circle cx="107.05" cy="623.88" r="1.7" fill="#e9bd35" stroke="#6a4a0c" stroke-width="1.0"/>
<circle cx="109.44" cy="623.42" r="1.7" fill="#e9bd35" stroke="#6a4a0c" stroke-width="1.0"/>
<circle cx="111.86" cy="622.93" r="1.7" fill="#e9bd35" stroke="#6a4a0c" stroke-width="1.0"/>
<circle cx="114.25" cy="622.44" r="1.7" fill="#e9bd35" stroke="#6a4a0c" stroke-width="1.0"/>
<circle cx="116.63" cy="621.92" r="1.7" fill="#e9bd35" stroke="#6a4a0c" stroke-width="1.0"/>
<circle cx="119.02" cy="621.36" r="1.7" fill="#e9bd35" stroke="#6a4a0c" stroke-width="1.0"/>
<circle cx="121.37" cy="620.74" r="1.7" fill="#e9bd35" stroke="#6a4a0c" stroke-width="1.0"/>
<circle cx="123.72" cy="620.05" r="1.7" fill="#e9bd35" stroke="#6a4a0c" stroke-width="1.0"/>
<circle cx="126.04" cy="619.27" r="1.7" fill="#e9bd35" stroke="#6a4a0c" stroke-width="1.0"/>
<circle cx="128.32" cy="618.33" r="1.7" fill="#e9bd35" stroke="#6a4a0c" stroke-width="1.0"/>
<circle cx="130.5" cy="617.23" r="1.7" fill="#e9bd35" stroke="#6a4a0c" stroke-width="1.0"/>
<circle cx="132.61" cy="615.97" r="1.7" fill="#e9bd35" stroke="#6a4a0c" stroke-width="1.0"/>
<circle cx="134.61" cy="614.57" r="1.7" fill="#e9bd35" stroke="#6a4a0c" stroke-width="1.0"/>
<circle cx="136.4" cy="612.88" r="1.7" fill="#e9bd35" stroke="#6a4a0c" stroke-width="1.0"/>
<circle cx="137.8" cy="610.93" r="1.7" fill="#e9bd35" stroke="#6a4a0c" stroke-width="1.0"/>
<circle cx="138.89" cy="608.7" r="1.7" fill="#e9bd35" stroke="#6a4a0c" stroke-width="1.0"/>
<circle cx="139.8" cy="606.48" r="1.7" fill="#e9bd35" stroke="#6a4a0c" stroke-width="1.0"/>
<circle cx="141.6" cy="585" r="1.7" fill="#e9bd35" stroke="#6a4a0c" stroke-width="1.0"/>
<circle cx="143.9" cy="580.9" r="1.7" fill="#e9bd35" stroke="#6a4a0c" stroke-width="1.0"/>
<circle cx="145.8" cy="576.8" r="1.7" fill="#e9bd35" stroke="#6a4a0c" stroke-width="1.0"/>
<circle cx="147.8" cy="573.2" r="1.7" fill="#e9bd35" stroke="#6a4a0c" stroke-width="1.0"/>
<circle cx="150" cy="570" r="1.7" fill="#e9bd35" stroke="#6a4a0c" stroke-width="1.0"/>
<circle cx="152.1" cy="567.4" r="1.7" fill="#e9bd35" stroke="#6a4a0c" stroke-width="1.0"/>
<circle cx="154.3" cy="565.38" r="1.7" fill="#e9bd35" stroke="#6a4a0c" stroke-width="1.0"/>
<circle cx="155.96" cy="563.41" r="1.7" fill="#e9bd35" stroke="#6a4a0c" stroke-width="1.0"/>
<circle cx="157.53" cy="561.37" r="1.7" fill="#e9bd35" stroke="#6a4a0c" stroke-width="1.0"/>
<circle cx="159.1" cy="559.31" r="1.7" fill="#e9bd35" stroke="#6a4a0c" stroke-width="1.0"/>
<circle cx="160.73" cy="557.31" r="1.7" fill="#e9bd35" stroke="#6a4a0c" stroke-width="1.0"/>
<circle cx="162.44" cy="555.42" r="1.7" fill="#e9bd35" stroke="#6a4a0c" stroke-width="1.0"/>
<circle cx="164.24" cy="553.57" r="1.7" fill="#e9bd35" stroke="#6a4a0c" stroke-width="1.0"/>
<circle cx="166.07" cy="551.77" r="1.7" fill="#e9bd35" stroke="#6a4a0c" stroke-width="1.0"/>
<circle cx="167.93" cy="549.98" r="1.7" fill="#e9bd35" stroke="#6a4a0c" stroke-width="1.0"/>
<circle cx="169.79" cy="548.17" r="1.7" fill="#e9bd35" stroke="#6a4a0c" stroke-width="1.0"/>
<circle cx="171.59" cy="546.37" r="1.7" fill="#e9bd35" stroke="#6a4a0c" stroke-width="1.0"/>
<circle cx="173.42" cy="544.52" r="1.7" fill="#e9bd35" stroke="#6a4a0c" stroke-width="1.0"/>
<circle cx="175.22" cy="542.7" r="1.7" fill="#e9bd35" stroke="#6a4a0c" stroke-width="1.0"/>
<circle cx="177.04" cy="540.86" r="1.7" fill="#e9bd35" stroke="#6a4a0c" stroke-width="1.0"/>
<circle cx="178.87" cy="539.06" r="1.7" fill="#e9bd35" stroke="#6a4a0c" stroke-width="1.0"/>
<circle cx="180.73" cy="537.28" r="1.7" fill="#e9bd35" stroke="#6a4a0c" stroke-width="1.0"/>
<circle cx="182.62" cy="535.55" r="1.7" fill="#e9bd35" stroke="#6a4a0c" stroke-width="1.0"/>
<circle cx="184.56" cy="533.84" r="1.7" fill="#e9bd35" stroke="#6a4a0c" stroke-width="1.0"/>
<circle cx="186.5" cy="532.15" r="1.7" fill="#e9bd35" stroke="#6a4a0c" stroke-width="1.0"/>
<circle cx="188.42" cy="530.48" r="1.7" fill="#e9bd35" stroke="#6a4a0c" stroke-width="1.0"/>
<circle cx="190.36" cy="528.73" r="1.7" fill="#e9bd35" stroke="#6a4a0c" stroke-width="1.0"/>
<circle cx="192.24" cy="526.98" r="1.7" fill="#e9bd35" stroke="#6a4a0c" stroke-width="1.0"/>
<circle cx="194.1" cy="525.23" r="1.7" fill="#e9bd35" stroke="#6a4a0c" stroke-width="1.0"/>
<circle cx="195.96" cy="523.46" r="1.7" fill="#e9bd35" stroke="#6a4a0c" stroke-width="1.0"/>
<circle cx="197.85" cy="521.68" r="1.7" fill="#e9bd35" stroke="#6a4a0c" stroke-width="1.0"/>
<circle cx="199.73" cy="519.93" r="1.7" fill="#e9bd35" stroke="#6a4a0c" stroke-width="1.0"/>
<circle cx="201.62" cy="518.21" r="1.7" fill="#e9bd35" stroke="#6a4a0c" stroke-width="1.0"/>
<circle cx="203.53" cy="516.47" r="1.7" fill="#e9bd35" stroke="#6a4a0c" stroke-width="1.0"/>
<circle cx="205.45" cy="514.75" r="1.7" fill="#e9bd35" stroke="#6a4a0c" stroke-width="1.0"/>
<circle cx="207.36" cy="513.03" r="1.7" fill="#e9bd35" stroke="#6a4a0c" stroke-width="1.0"/>
<circle cx="209.27" cy="511.31" r="1.7" fill="#e9bd35" stroke="#6a4a0c" stroke-width="1.0"/>
<circle cx="211.16" cy="509.59" r="1.7" fill="#e9bd35" stroke="#6a4a0c" stroke-width="1.0"/>
<circle cx="213.07" cy="507.85" r="1.7" fill="#e9bd35" stroke="#6a4a0c" stroke-width="1.0"/>
<circle cx="214.99" cy="506.12" r="1.7" fill="#e9bd35" stroke="#6a4a0c" stroke-width="1.0"/>
<circle cx="216.9" cy="504.38" r="1.7" fill="#e9bd35" stroke="#6a4a0c" stroke-width="1.0"/>
<circle cx="218.79" cy="502.63" r="1.7" fill="#e9bd35" stroke="#6a4a0c" stroke-width="1.0"/>
<circle cx="220.65" cy="500.86" r="1.7" fill="#e9bd35" stroke="#6a4a0c" stroke-width="1.0"/>
<circle cx="222.48" cy="499.06" r="1.7" fill="#e9bd35" stroke="#6a4a0c" stroke-width="1.0"/>
<circle cx="224.28" cy="497.23" r="1.7" fill="#e9bd35" stroke="#6a4a0c" stroke-width="1.0"/>
<circle cx="226.08" cy="495.36" r="1.7" fill="#e9bd35" stroke="#6a4a0c" stroke-width="1.0"/>
<circle cx="227.85" cy="493.49" r="1.7" fill="#e9bd35" stroke="#6a4a0c" stroke-width="1.0"/>
<circle cx="229.59" cy="491.63" r="1.7" fill="#e9bd35" stroke="#6a4a0c" stroke-width="1.0"/>
<circle cx="231.36" cy="489.74" r="1.7" fill="#e9bd35" stroke="#6a4a0c" stroke-width="1.0"/>
<circle cx="233.1" cy="487.86" r="1.7" fill="#e9bd35" stroke="#6a4a0c" stroke-width="1.0"/>
<circle cx="234.85" cy="485.96" r="1.7" fill="#e9bd35" stroke="#6a4a0c" stroke-width="1.0"/>
<circle cx="236.56" cy="484.07" r="1.7" fill="#e9bd35" stroke="#6a4a0c" stroke-width="1.0"/>
<circle cx="238.3" cy="482.13" r="1.7" fill="#e9bd35" stroke="#6a4a0c" stroke-width="1.0"/>
<circle cx="239.99" cy="480.24" r="1.7" fill="#e9bd35" stroke="#6a4a0c" stroke-width="1.0"/>
<clipPath id="ce"><rect x="306.1" y="462.1" width="212.5" height="169.0"/></clipPath>
<g clip-path="url(#ce)">
<polyline points="305.72,470.89 306.36,470.9 307,470.91 307.64,470.92 308.28,470.93 308.92,470.94 309.56,470.95 310.21,470.96 310.85,470.97 311.49,470.98 312.13,470.99 312.77,471 313.41,471.02 314.06,471.03 314.7,471.04 315.34,471.05 315.98,471.07 316.62,471.08 317.26,471.1 317.9,471.11 318.55,471.12 319.19,471.14 319.83,471.15 320.47,471.17 321.11,471.19 321.75,471.2 322.4,471.22 323.04,471.24 323.68,471.25 324.32,471.27 324.96,471.29 325.6,471.31 326.24,471.33 326.89,471.35 327.53,471.37 328.17,471.39 328.81,471.41 329.45,471.43 330.09,471.46 330.74,471.48 331.38,471.5 332.02,471.53 332.66,471.55 333.3,471.58 333.94,471.6 334.58,471.63 335.23,471.66 335.87,471.68 336.51,471.71 337.15,471.74 337.79,471.77 338.43,471.8 339.08,471.83 339.72,471.87 340.36,471.9 341,471.93 341.64,471.97 342.28,472 342.92,472.04 343.57,472.07 344.21,472.11 344.85,472.15 345.49,472.19 346.13,472.23 346.77,472.27 347.42,472.31 348.06,472.36 348.7,472.4 349.34,472.45 349.98,472.49 350.62,472.54 351.26,472.59 351.91,472.64 352.55,472.69 353.19,472.74 353.83,472.8 354.47,472.85 355.11,472.91 355.76,472.97 356.4,473.03 357.04,473.09 357.68,473.15 358.32,473.21 358.96,473.27 359.6,473.34 360.25,473.41 360.89,473.48 361.53,473.55 362.17,473.62 362.81,473.7 363.45,473.77 364.1,473.85 364.74,473.93 365.38,474.01 366.02,474.09 366.66,474.18 367.3,474.27 367.94,474.35 368.59,474.45 369.23,474.54 369.87,474.63 370.51,474.73 371.15,474.83 371.79,474.94 372.44,475.04 373.08,475.15 373.72,475.26 374.36,475.37 375,475.48 375.64,475.6 376.28,475.72 376.93,475.84 377.57,475.97 378.21,476.1 378.85,476.23 379.49,476.36 380.13,476.5 380.78,476.64 381.42,476.79 382.06,476.93 382.7,477.08 383.34,477.24 383.98,477.4 384.62,477.56 385.27,477.72 385.91,477.89 386.55,478.06 387.19,478.24 387.83,478.42 388.47,478.6 389.12,478.79 389.76,478.98 390.4,479.18 391.04,479.38 391.68,479.58 392.32,479.79 392.96,480.01 393.61,480.23 394.25,480.45 394.89,480.68 395.53,480.91 396.17,481.15 396.81,481.4 397.46,481.65 398.1,481.9 398.74,482.16 399.38,482.43 400.02,482.7 400.66,482.98 401.3,483.26 401.95,483.55 402.59,483.84 403.23,484.15 403.87,484.45 404.51,484.77 405.15,485.09 405.8,485.42 406.44,485.75 407.08,486.09 407.72,486.44 408.36,486.8 409,487.16 409.64,487.53 410.29,487.91 410.93,488.3 411.57,488.69 412.21,489.09 412.85,489.5 413.49,489.92 414.14,490.35 414.78,490.78 415.42,491.22 416.06,491.68 416.7,492.14 417.34,492.61 417.98,493.08 418.63,493.57 419.27,494.07 419.91,494.58 420.55,495.09 421.19,495.62 421.83,496.15 422.48,496.7 423.12,497.25 423.76,497.82 424.4,498.39 425.04,498.98 425.68,499.58 426.32,500.18 426.97,500.8 427.61,501.43 428.25,502.07 428.89,502.72 429.53,503.38 430.17,504.06 430.82,504.74 431.46,505.44 432.1,506.15 432.74,506.87 433.38,507.6 434.02,508.34 434.66,509.1 435.31,509.86 435.95,510.64 436.59,511.43 437.23,512.24 437.87,513.05 438.51,513.88 439.16,514.72 439.8,515.57 440.44,516.44 441.08,517.32 441.72,518.21 442.36,519.11 443,520.03 443.65,520.96 444.29,521.9 444.93,522.85 445.57,523.82 446.21,524.79 446.85,525.79 447.5,526.79 448.14,527.81 448.78,528.83 449.42,529.88 450.06,530.93 450.7,531.99 451.34,533.07 451.99,534.16 452.63,535.27 453.27,536.38 453.91,537.51 454.55,538.65 455.19,539.8 455.84,540.96 456.48,542.13 457.12,543.32 457.76,544.51 458.4,545.72 459.04,546.94 459.68,548.17 460.33,549.41 460.97,550.66 461.61,551.92 462.25,553.19 462.89,554.47 463.53,555.76 464.18,557.06 464.82,558.37 465.46,559.69 466.1,561.01 466.74,562.35 467.38,563.69 468.02,565.05 468.67,566.41 469.31,567.78 469.95,569.15 470.59,570.53 471.23,571.93 471.87,573.32 472.52,574.73 473.16,576.13 473.8,577.55 474.44,578.97 475.08,580.4 475.72,581.83 476.36,583.27 477.01,584.71 477.65,586.15 478.29,587.6 478.93,589.05 479.57,590.51 480.21,591.97 480.86,593.43 481.5,594.89 482.14,596.36 482.78,597.83 483.42,599.3 484.06,600.77 484.7,602.24 485.35,603.72 485.99,605.19 486.63,606.66 487.27,608.14 487.91,609.61 488.55,611.08 489.2,612.56 489.84,614.03 490.48,615.5 491.12,616.96 491.76,618.43 492.4,619.89 493.04,621.35 493.69,622.81 494.33,624.27 494.97,625.72 495.61,627.17 496.25,628.61 496.89,630.06 497.54,631.49" fill="none" stroke="#6a6a6a" stroke-width="1.1" stroke-linejoin="round" stroke-linecap="round" stroke-dasharray="4 3" stroke-linecap="butt"/>
</g>
<rect x="306.1" y="462.1" width="212.5" height="169" fill="none" stroke="#9a9a9a" stroke-width="1"/>
<line x1="306.1" y1="631.1" x2="308.1" y2="631.1" stroke="#9a9a9a" stroke-width="1"/>
<line x1="516.6" y1="631.1" x2="518.6" y2="631.1" stroke="#9a9a9a" stroke-width="1"/>
<text x="301.7" y="634.8" font-size="10.3" text-anchor="end" fill="#262626" stroke="#262626" stroke-width="0.12">0.5</text>
<line x1="306.1" y1="598.98" x2="308.1" y2="598.98" stroke="#9a9a9a" stroke-width="1"/>
<line x1="516.6" y1="598.98" x2="518.6" y2="598.98" stroke="#9a9a9a" stroke-width="1"/>
<text x="301.7" y="602.68" font-size="10.3" text-anchor="end" fill="#262626" stroke="#262626" stroke-width="0.12">0.6</text>
<line x1="306.1" y1="566.86" x2="308.1" y2="566.86" stroke="#9a9a9a" stroke-width="1"/>
<line x1="516.6" y1="566.86" x2="518.6" y2="566.86" stroke="#9a9a9a" stroke-width="1"/>
<text x="301.7" y="570.56" font-size="10.3" text-anchor="end" fill="#262626" stroke="#262626" stroke-width="0.12">0.7</text>
<line x1="306.1" y1="534.74" x2="308.1" y2="534.74" stroke="#9a9a9a" stroke-width="1"/>
<line x1="516.6" y1="534.74" x2="518.6" y2="534.74" stroke="#9a9a9a" stroke-width="1"/>
<text x="301.7" y="538.44" font-size="10.3" text-anchor="end" fill="#262626" stroke="#262626" stroke-width="0.12">0.8</text>
<line x1="306.1" y1="502.62" x2="308.1" y2="502.62" stroke="#9a9a9a" stroke-width="1"/>
<line x1="516.6" y1="502.62" x2="518.6" y2="502.62" stroke="#9a9a9a" stroke-width="1"/>
<text x="301.7" y="506.32" font-size="10.3" text-anchor="end" fill="#262626" stroke="#262626" stroke-width="0.12">0.9</text>
<line x1="306.1" y1="470.5" x2="308.1" y2="470.5" stroke="#9a9a9a" stroke-width="1"/>
<line x1="516.6" y1="470.5" x2="518.6" y2="470.5" stroke="#9a9a9a" stroke-width="1"/>
<text x="301.7" y="474.2" font-size="10.3" text-anchor="end" fill="#262626" stroke="#262626" stroke-width="0.12">1</text>
<line x1="321.2" y1="631.1" x2="321.2" y2="629.6" stroke="#9a9a9a" stroke-width="0.9"/>
<line x1="321.2" y1="462.1" x2="321.2" y2="463.6" stroke="#9a9a9a" stroke-width="0.9"/>
<line x1="333.2" y1="631.1" x2="333.2" y2="629.6" stroke="#9a9a9a" stroke-width="0.9"/>
<line x1="333.2" y1="462.1" x2="333.2" y2="463.6" stroke="#9a9a9a" stroke-width="0.9"/>
<line x1="343.01" y1="631.1" x2="343.01" y2="629.6" stroke="#9a9a9a" stroke-width="0.9"/>
<line x1="343.01" y1="462.1" x2="343.01" y2="463.6" stroke="#9a9a9a" stroke-width="0.9"/>
<line x1="351.31" y1="631.1" x2="351.31" y2="629.6" stroke="#9a9a9a" stroke-width="0.9"/>
<line x1="351.31" y1="462.1" x2="351.31" y2="463.6" stroke="#9a9a9a" stroke-width="0.9"/>
<line x1="358.49" y1="631.1" x2="358.49" y2="629.6" stroke="#9a9a9a" stroke-width="0.9"/>
<line x1="358.49" y1="462.1" x2="358.49" y2="463.6" stroke="#9a9a9a" stroke-width="0.9"/>
<line x1="364.83" y1="631.1" x2="364.83" y2="629.6" stroke="#9a9a9a" stroke-width="0.9"/>
<line x1="364.83" y1="462.1" x2="364.83" y2="463.6" stroke="#9a9a9a" stroke-width="0.9"/>
<line x1="407.8" y1="631.1" x2="407.8" y2="629.6" stroke="#9a9a9a" stroke-width="0.9"/>
<line x1="407.8" y1="462.1" x2="407.8" y2="463.6" stroke="#9a9a9a" stroke-width="0.9"/>
<line x1="429.62" y1="631.1" x2="429.62" y2="629.6" stroke="#9a9a9a" stroke-width="0.9"/>
<line x1="429.62" y1="462.1" x2="429.62" y2="463.6" stroke="#9a9a9a" stroke-width="0.9"/>
<line x1="445.1" y1="631.1" x2="445.1" y2="629.6" stroke="#9a9a9a" stroke-width="0.9"/>
<line x1="445.1" y1="462.1" x2="445.1" y2="463.6" stroke="#9a9a9a" stroke-width="0.9"/>
<line x1="457.1" y1="631.1" x2="457.1" y2="629.6" stroke="#9a9a9a" stroke-width="0.9"/>
<line x1="457.1" y1="462.1" x2="457.1" y2="463.6" stroke="#9a9a9a" stroke-width="0.9"/>
<line x1="466.91" y1="631.1" x2="466.91" y2="629.6" stroke="#9a9a9a" stroke-width="0.9"/>
<line x1="466.91" y1="462.1" x2="466.91" y2="463.6" stroke="#9a9a9a" stroke-width="0.9"/>
<line x1="475.21" y1="631.1" x2="475.21" y2="629.6" stroke="#9a9a9a" stroke-width="0.9"/>
<line x1="475.21" y1="462.1" x2="475.21" y2="463.6" stroke="#9a9a9a" stroke-width="0.9"/>
<line x1="482.39" y1="631.1" x2="482.39" y2="629.6" stroke="#9a9a9a" stroke-width="0.9"/>
<line x1="482.39" y1="462.1" x2="482.39" y2="463.6" stroke="#9a9a9a" stroke-width="0.9"/>
<line x1="488.73" y1="631.1" x2="488.73" y2="629.6" stroke="#9a9a9a" stroke-width="0.9"/>
<line x1="488.73" y1="462.1" x2="488.73" y2="463.6" stroke="#9a9a9a" stroke-width="0.9"/>
<line x1="370.5" y1="631.1" x2="370.5" y2="628.6" stroke="#9a9a9a" stroke-width="1"/>
<line x1="370.5" y1="462.1" x2="370.5" y2="464.6" stroke="#9a9a9a" stroke-width="1"/>
<line x1="494.4" y1="631.1" x2="494.4" y2="628.6" stroke="#9a9a9a" stroke-width="1"/>
<line x1="494.4" y1="462.1" x2="494.4" y2="464.6" stroke="#9a9a9a" stroke-width="1"/>
<text x="362.5" y="649.6" font-size="10" fill="#262626" stroke="#262626" stroke-width="0.12">10</text>
<text x="374.4" y="643.9" font-size="8.8" fill="#262626" stroke="#262626" stroke-width="0.11">4</text>
<text x="486.4" y="649.6" font-size="10" fill="#262626" stroke="#262626" stroke-width="0.12">10</text>
<text x="498.3" y="643.9" font-size="8.8" fill="#262626" stroke="#262626" stroke-width="0.11">5</text>
<text x="412.5" y="663.5" font-size="11.3" text-anchor="middle" textLength="84" lengthAdjust="spacingAndGlyphs" fill="#262626" stroke="#262626" stroke-width="0.14">Frequency (Hz)</text>
<text transform="translate(281.4,548.7) rotate(-90)" x="0" y="0" font-size="11.8" text-anchor="middle" textLength="168" lengthAdjust="spacingAndGlyphs" fill="#262626" stroke="#262626" stroke-width="0.14">Normalized AC response (a.u.)</text>
<rect x="367.9" y="467.9" width="5.2" height="5.2" fill="#e9bd2c" stroke="#4a3505" stroke-width="0.9"/>
<rect x="405.2" y="500.02" width="5.2" height="5.2" fill="#e9bd2c" stroke="#4a3505" stroke-width="0.9"/>
<rect x="427.02" y="519.29" width="5.2" height="5.2" fill="#e9bd2c" stroke="#4a3505" stroke-width="0.9"/>
<rect x="442.5" y="538.56" width="5.2" height="5.2" fill="#e9bd2c" stroke="#4a3505" stroke-width="0.9"/>
<rect x="454.5" y="551.41" width="5.2" height="5.2" fill="#e9bd2c" stroke="#4a3505" stroke-width="0.9"/>
<rect x="464.31" y="570.68" width="5.2" height="5.2" fill="#e9bd2c" stroke="#4a3505" stroke-width="0.9"/>
<rect x="472.61" y="586.74" width="5.2" height="5.2" fill="#e9bd2c" stroke="#4a3505" stroke-width="0.9"/>
<rect x="479.79" y="596.38" width="5.2" height="5.2" fill="#e9bd2c" stroke="#4a3505" stroke-width="0.9"/>
<rect x="486.13" y="602.8" width="5.2" height="5.2" fill="#e9bd2c" stroke="#4a3505" stroke-width="0.9"/>
<rect x="491.8" y="609.23" width="5.2" height="5.2" fill="#e9bd2c" stroke="#4a3505" stroke-width="0.9"/>
<rect x="513.62" y="622.08" width="5.2" height="5.2" fill="#e9bd2c" stroke="#4a3505" stroke-width="0.9"/>
<rect x="418.5" y="468" width="95.1" height="21.6" fill="#fff" stroke="#9a9a9a" stroke-width="0.8"/>
<rect x="428.5" y="471.3" width="5.2" height="5.2" fill="#e9bd2c" stroke="#4a3505" stroke-width="0.9"/>
<line x1="420.6" y1="484.6" x2="441.7" y2="484.6" stroke="#6a6a6a" stroke-width="1.1" stroke-dasharray="4 3"/>
<text x="444" y="477.2" font-size="8.6" textLength="51.5" lengthAdjust="spacingAndGlyphs" fill="#262626" stroke="#262626" stroke-width="0.1">Measurement</text>
<text x="444" y="487.8" font-size="8.6" textLength="65.5" lengthAdjust="spacingAndGlyphs" fill="#262626" stroke="#262626" stroke-width="0.1">Fit (BW ~ 61 kHz)</text>
</svg>
</body></html>
